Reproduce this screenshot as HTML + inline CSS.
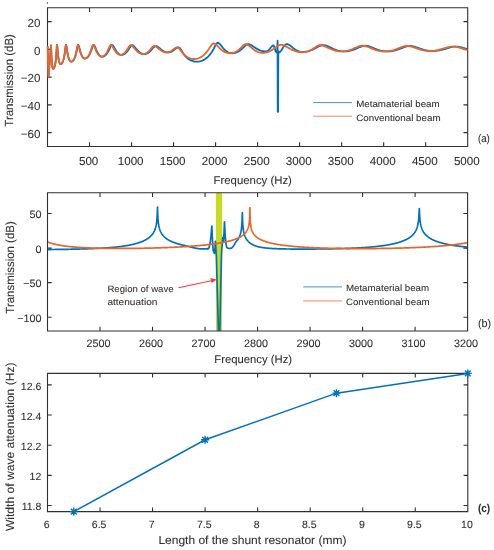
<!DOCTYPE html>
<html><head><meta charset="utf-8"><title>Figure</title>
<style>html,body{margin:0;padding:0;background:#fff;}svg{display:block;}</style>
</head><body>
<svg style="text-rendering:geometricPrecision" width="494" height="550" viewBox="0 0 494 550" font-family="'Liberation Sans', Arial, sans-serif">
<rect width="494" height="550" fill="#fff"/>
<defs><clipPath id="ca"><rect x="46.7" y="7.8" width="421.0" height="138.7"/></clipPath>
<clipPath id="cb"><rect x="47.5" y="192.8" width="420.1" height="138.2"/></clipPath></defs>
<path d="M47.5 7.8H467.7V146.5H47.5Z M89.52 146.5v-4.2 M89.52 7.8v4.2 M131.54 146.5v-4.2 M131.54 7.8v4.2 M173.56 146.5v-4.2 M173.56 7.8v4.2 M215.58 146.5v-4.2 M215.58 7.8v4.2 M257.6 146.5v-4.2 M257.6 7.8v4.2 M299.62 146.5v-4.2 M299.62 7.8v4.2 M341.64 146.5v-4.2 M341.64 7.8v4.2 M383.66 146.5v-4.2 M383.66 7.8v4.2 M425.68 146.5v-4.2 M425.68 7.8v4.2 M47.5 132.63h4.2 M467.7 132.63h-4.2 M47.5 104.89h4.2 M467.7 104.89h-4.2 M47.5 77.15h4.2 M467.7 77.15h-4.2 M47.5 49.41h4.2 M467.7 49.41h-4.2 M47.5 21.67h4.2 M467.7 21.67h-4.2" fill="none" stroke="#303030" stroke-width="1.1"/>
<g clip-path="url(#ca)" fill="none" stroke-linejoin="round" stroke-width="1.85">
<path d="M47.5 46.05 L48.5 76.7 L51 45.35 L51.11 46.93 L51.22 50.07 L51.33 53.15 L51.44 55.77 L51.55 57.95 L51.66 59.79 L51.77 61.34 L51.88 62.66 L51.99 63.79 L52.1 64.77 L52.21 65.6 L52.32 66.32 L52.43 66.93 L52.54 67.43 L52.65 67.85 L52.76 68.19 L52.87 68.44 L52.98 68.62 L53.09 68.72 L53.2 68.75 L53.39 68.7 L53.58 68.58 L53.77 68.38 L53.96 68.11 L54.15 67.75 L54.34 67.31 L54.53 66.79 L54.72 66.16 L54.91 65.42 L55.1 64.57 L55.29 63.57 L55.48 62.42 L55.67 61.08 L55.86 59.51 L56.05 57.65 L56.24 55.45 L56.43 52.81 L56.62 49.71 L56.81 46.55 L57 44.95 L57 44.95 L57.18 45.75 L57.36 47.66 L57.54 49.88 L57.72 51.99 L57.9 53.88 L58.08 55.53 L58.26 56.96 L58.44 58.2 L58.62 59.28 L58.8 60.22 L58.98 61.03 L59.16 61.73 L59.34 62.32 L59.52 62.82 L59.7 63.24 L59.88 63.57 L60.06 63.83 L60.24 64.01 L60.42 64.11 L60.6 64.15 L60.87 64.11 L61.14 64.01 L61.41 63.83 L61.68 63.57 L61.95 63.24 L62.22 62.82 L62.49 62.32 L62.76 61.73 L63.03 61.03 L63.3 60.22 L63.57 59.28 L63.84 58.2 L64.11 56.96 L64.38 55.53 L64.65 53.88 L64.92 51.99 L65.19 49.88 L65.46 47.66 L65.73 45.75 L66 44.95 L66 44.95 L66.26 45.48 L66.52 46.83 L66.78 48.55 L67.04 50.3 L67.3 51.95 L67.56 53.44 L67.82 54.76 L68.08 55.92 L68.34 56.95 L68.6 57.84 L68.86 58.62 L69.12 59.29 L69.38 59.87 L69.64 60.36 L69.9 60.76 L70.16 61.09 L70.42 61.33 L70.68 61.51 L70.94 61.62 L71.2 61.65 L71.55 61.62 L71.9 61.51 L72.25 61.33 L72.6 61.09 L72.95 60.76 L73.3 60.36 L73.65 59.87 L74 59.29 L74.35 58.62 L74.7 57.84 L75.05 56.95 L75.4 55.92 L75.75 54.76 L76.1 53.44 L76.45 51.95 L76.8 50.3 L77.15 48.55 L77.5 46.83 L77.85 45.48 L78.2 44.95 L78.2 44.95 L78.53 45.26 L78.87 46.1 L79.2 47.26 L79.54 48.55 L79.88 49.85 L80.21 51.08 L80.55 52.21 L80.88 53.24 L81.22 54.16 L81.55 54.97 L81.89 55.69 L82.22 56.32 L82.56 56.86 L82.89 57.32 L83.23 57.7 L83.56 58.01 L83.9 58.25 L84.23 58.42 L84.56 58.52 L84.9 58.55 L85.34 58.52 L85.78 58.42 L86.22 58.25 L86.66 58.01 L87.1 57.7 L87.54 57.32 L87.98 56.86 L88.42 56.32 L88.86 55.69 L89.3 54.97 L89.74 54.16 L90.18 53.24 L90.62 52.21 L91.06 51.08 L91.5 49.85 L91.94 48.55 L92.38 47.26 L92.82 46.1 L93.26 45.26 L93.7 44.95 L93.7 44.95 L94.13 45.17 L94.56 45.77 L94.99 46.65 L95.42 47.67 L95.85 48.74 L96.28 49.79 L96.71 50.78 L97.14 51.7 L97.57 52.53 L98 53.28 L98.43 53.95 L98.86 54.54 L99.29 55.05 L99.72 55.48 L100.15 55.84 L100.58 56.14 L101.01 56.36 L101.44 56.52 L101.87 56.62 L102.3 56.65 L102.78 56.62 L103.27 56.52 L103.75 56.36 L104.24 56.14 L104.72 55.84 L105.21 55.48 L105.69 55.05 L106.18 54.54 L106.66 53.95 L107.15 53.28 L107.64 52.53 L108.12 51.7 L108.61 50.78 L109.09 49.79 L109.58 48.74 L110.06 47.67 L110.55 46.65 L111.03 45.77 L111.52 45.17 L112 44.95 L112 44.95 L112.47 45.1 L112.95 45.53 L113.42 46.18 L113.9 46.96 L114.38 47.8 L114.85 48.66 L115.33 49.5 L115.8 50.3 L116.28 51.03 L116.75 51.71 L117.22 52.31 L117.7 52.85 L118.17 53.32 L118.65 53.73 L119.12 54.07 L119.6 54.35 L120.08 54.57 L120.55 54.72 L121.03 54.82 L121.5 54.85 L122.03 54.83 L122.56 54.74 L123.09 54.6 L123.62 54.39 L124.15 54.12 L124.68 53.79 L125.21 53.39 L125.74 52.93 L126.27 52.4 L126.8 51.81 L127.33 51.14 L127.86 50.42 L128.39 49.63 L128.92 48.8 L129.45 47.95 L129.98 47.12 L130.51 46.35 L131.04 45.71 L131.57 45.29 L132.1 45.15 L132.1 45.15 L132.7 45.29 L133.31 45.63 L133.91 46.15 L134.52 46.79 L135.12 47.5 L135.73 48.23 L136.33 48.97 L136.94 49.68 L137.54 50.35 L138.15 50.97 L138.75 51.54 L139.36 52.05 L139.97 52.5 L140.57 52.89 L141.17 53.23 L141.78 53.51 L142.38 53.73 L142.99 53.89 L143.59 54 L144.2 54.05 L144.77 54.04 L145.35 53.98 L145.92 53.86 L146.5 53.69 L147.07 53.46 L147.65 53.16 L148.22 52.82 L148.8 52.41 L149.38 51.94 L149.95 51.42 L150.52 50.84 L151.1 50.22 L151.67 49.55 L152.25 48.86 L152.82 48.17 L153.4 47.51 L153.97 46.91 L154.55 46.44 L155.12 46.14 L155.7 46.05 L155.7 46.05 L156.3 46.14 L156.91 46.35 L157.51 46.65 L158.12 47.03 L158.72 47.47 L159.33 47.95 L159.94 48.44 L160.54 48.94 L161.15 49.43 L161.75 49.89 L162.35 50.33 L162.96 50.73 L163.56 51.09 L164.17 51.42 L164.78 51.7 L165.38 51.94 L165.99 52.14 L166.59 52.29 L167.2 52.39 L167.8 52.45 L168.34 52.46 L168.87 52.43 L169.41 52.35 L169.94 52.22 L170.48 52.05 L171.01 51.84 L171.55 51.58 L172.08 51.29 L172.62 50.96 L173.15 50.59 L173.69 50.2 L174.22 49.78 L174.75 49.35 L175.29 48.93 L175.82 48.52 L176.36 48.15 L176.9 47.84 L177.43 47.61 L177.97 47.47 L178.5 47.45 L178.5 47.45 L179.5 47.84 L180.5 49.04 L181.5 50.59 L182.5 52.2 L183.5 53.7 L184.5 55.05 L185.5 56.25 L186.5 57.28 L187.5 58.18 L188.5 58.95 L189.5 59.61 L190.5 60.16 L191.5 60.61 L192.5 60.98 L193.5 61.26 L194.5 61.47 L195.5 61.59 L196.5 61.65 L197.5 61.64 L198.5 61.55 L199.46 61.4 L200.42 61.18 L201.38 60.89 L202.34 60.53 L203.3 60.09 L204.26 59.57 L205.22 58.97 L206.18 58.28 L207.14 57.49 L208.1 56.6 L209.06 55.6 L210.02 54.46 L210.98 53.19 L211.94 51.76 L212.9 50.18 L213.86 48.44 L214.82 46.6 L215.78 44.81 L216.74 43.38 L217.7 42.75 L217.7 42.75 L218.41 42.93 L219.12 43.39 L219.83 44.07 L220.54 44.88 L221.25 45.76 L221.96 46.65 L222.67 47.52 L223.38 48.35 L224.09 49.12 L224.8 49.82 L225.51 50.46 L226.22 51.02 L226.93 51.53 L227.64 51.96 L228.35 52.33 L229.06 52.64 L229.77 52.88 L230.48 53.06 L231.19 53.19 L231.9 53.25 L232.71 53.26 L233.51 53.2 L234.31 53.09 L235.12 52.92 L235.93 52.68 L236.73 52.38 L237.53 52.02 L238.34 51.58 L239.15 51.09 L239.95 50.52 L240.75 49.89 L241.56 49.19 L242.37 48.43 L243.17 47.63 L243.97 46.81 L244.78 46 L245.59 45.26 L246.39 44.65 L247.19 44.26 L248 44.15 L248 44.15 L248.87 44.26 L249.73 44.51 L250.59 44.88 L251.46 45.33 L252.32 45.86 L253.19 46.42 L254.06 46.99 L254.92 47.56 L255.78 48.11 L256.65 48.63 L257.51 49.12 L258.38 49.57 L259.25 49.97 L260.11 50.33 L260.98 50.64 L261.84 50.9 L262.7 51.11 L263.57 51.27 L264.44 51.38 L265.3 51.45 L265.72 51.44 L266.13 51.39 L266.55 51.29 L266.96 51.14 L267.38 50.94 L267.79 50.69 L268.21 50.39 L268.62 50.05 L269.04 49.66 L269.45 49.23 L269.87 48.77 L270.28 48.28 L270.69 47.77 L271.11 47.26 L271.53 46.76 L271.94 46.29 L272.36 45.9 L272.77 45.59 L273.19 45.4 L273.6 45.35 L274.5 47.55 L275.4 50.85 L276.4 52.15 L277.2 50.75 L277.55 40.75 L277.75 111.7 L278.05 111.7 L278.3 51.05 L278.9 52.55 L279.8 52.15 L280.52 51.43 L281.24 50.41 L281.96 49.28 L282.68 48.14 L283.4 47.05 L284.12 46.08 L284.84 45.26 L285.56 44.66 L286.28 44.28 L287 44.15 L287.75 44.26 L288.5 44.53 L289.25 44.94 L290 45.45 L290.75 46.04 L291.5 46.66 L292.25 47.28 L293 47.9 L293.75 48.49 L294.5 49.04 L295.25 49.55 L296 50.01 L296.75 50.42 L297.5 50.79 L298.25 51.09 L299 51.35 L299.75 51.55 L300.5 51.7 L301.25 51.8 L302 51.85 L303.07 51.85 L304.15 51.8 L305.23 51.7 L306.3 51.55 L307.38 51.34 L308.45 51.09 L309.52 50.77 L310.6 50.41 L311.68 50 L312.75 49.54 L313.82 49.04 L314.9 48.5 L315.98 47.93 L317.05 47.36 L318.12 46.79 L319.2 46.25 L320.27 45.79 L321.35 45.43 L322.43 45.21 L323.5 45.15 L323.5 45.15 L324.52 45.23 L325.55 45.43 L326.57 45.73 L327.6 46.12 L328.62 46.57 L329.65 47.06 L330.68 47.56 L331.7 48.06 L332.73 48.55 L333.75 49.02 L334.77 49.45 L335.8 49.85 L336.82 50.21 L337.85 50.52 L338.88 50.79 L339.9 51.02 L340.93 51.2 L341.95 51.33 L342.98 51.41 L344 51.45 L345.06 51.44 L346.13 51.39 L347.19 51.29 L348.26 51.14 L349.32 50.94 L350.39 50.7 L351.45 50.42 L352.52 50.09 L353.58 49.72 L354.65 49.32 L355.72 48.88 L356.78 48.42 L357.85 47.95 L358.91 47.48 L359.98 47.02 L361.04 46.6 L362.11 46.24 L363.17 45.97 L364.24 45.8 L365.3 45.75 L365.3 45.75 L366.4 45.81 L367.5 45.98 L368.6 46.25 L369.7 46.59 L370.8 47 L371.9 47.43 L373 47.89 L374.1 48.35 L375.2 48.8 L376.3 49.23 L377.4 49.63 L378.5 50 L379.6 50.33 L380.7 50.62 L381.8 50.87 L382.9 51.07 L384 51.23 L385.1 51.35 L386.2 51.42 L387.3 51.45 L388.43 51.43 L389.55 51.37 L390.68 51.26 L391.8 51.11 L392.93 50.92 L394.05 50.68 L395.18 50.4 L396.3 50.08 L397.43 49.72 L398.55 49.33 L399.68 48.91 L400.8 48.47 L401.93 48.02 L403.05 47.57 L404.18 47.15 L405.3 46.75 L406.43 46.42 L407.55 46.16 L408.68 46 L409.8 45.95 L409.8 45.95 L410.92 46.01 L412.04 46.15 L413.16 46.37 L414.28 46.65 L415.4 46.99 L416.52 47.35 L417.64 47.74 L418.76 48.13 L419.88 48.52 L421 48.9 L422.12 49.25 L423.24 49.58 L424.36 49.88 L425.48 50.15 L426.6 50.38 L427.72 50.57 L428.84 50.73 L429.96 50.84 L431.08 50.92 L432.2 50.95 L433.39 50.95 L434.58 50.9 L435.77 50.82 L436.96 50.69 L438.15 50.53 L439.34 50.33 L440.53 50.09 L441.72 49.82 L442.91 49.52 L444.1 49.2 L445.29 48.85 L446.48 48.49 L447.67 48.13 L448.86 47.77 L450.05 47.44 L451.24 47.13 L452.43 46.88 L453.62 46.69 L454.81 46.58 L456 46.55 L456.58 46.56 L457.17 46.59 L457.75 46.65 L458.34 46.72 L458.93 46.81 L459.51 46.92 L460.09 47.04 L460.68 47.18 L461.26 47.33 L461.85 47.49 L462.44 47.66 L463.02 47.84 L463.61 48.02 L464.19 48.2 L464.77 48.38 L465.36 48.57 L465.94 48.75 L466.53 48.93 L467.12 49.1 L467.7 49.27" stroke="#0072BD"/>
<path d="M47.5 46.05 L48.5 76.7 L51 45.35 L51.11 46.93 L51.22 50.07 L51.33 53.15 L51.44 55.77 L51.55 57.95 L51.66 59.79 L51.77 61.34 L51.88 62.66 L51.99 63.79 L52.1 64.77 L52.21 65.6 L52.32 66.32 L52.43 66.93 L52.54 67.43 L52.65 67.85 L52.76 68.19 L52.87 68.44 L52.98 68.62 L53.09 68.72 L53.2 68.75 L53.39 68.7 L53.58 68.58 L53.77 68.38 L53.96 68.11 L54.15 67.75 L54.34 67.31 L54.53 66.79 L54.72 66.16 L54.91 65.42 L55.1 64.57 L55.29 63.57 L55.48 62.42 L55.67 61.08 L55.86 59.51 L56.05 57.65 L56.24 55.45 L56.43 52.81 L56.62 49.71 L56.81 46.55 L57 44.95 L57 44.95 L57.18 45.75 L57.36 47.66 L57.54 49.88 L57.72 51.99 L57.9 53.88 L58.08 55.53 L58.26 56.96 L58.44 58.2 L58.62 59.28 L58.8 60.22 L58.98 61.03 L59.16 61.73 L59.34 62.32 L59.52 62.82 L59.7 63.24 L59.88 63.57 L60.06 63.83 L60.24 64.01 L60.42 64.11 L60.6 64.15 L60.87 64.11 L61.14 64.01 L61.41 63.83 L61.68 63.57 L61.95 63.24 L62.22 62.82 L62.49 62.32 L62.76 61.73 L63.03 61.03 L63.3 60.22 L63.57 59.28 L63.84 58.2 L64.11 56.96 L64.38 55.53 L64.65 53.88 L64.92 51.99 L65.19 49.88 L65.46 47.66 L65.73 45.75 L66 44.95 L66 44.95 L66.26 45.48 L66.52 46.83 L66.78 48.55 L67.04 50.3 L67.3 51.95 L67.56 53.44 L67.82 54.76 L68.08 55.92 L68.34 56.95 L68.6 57.84 L68.86 58.62 L69.12 59.29 L69.38 59.87 L69.64 60.36 L69.9 60.76 L70.16 61.09 L70.42 61.33 L70.68 61.51 L70.94 61.62 L71.2 61.65 L71.54 61.62 L71.88 61.51 L72.22 61.33 L72.56 61.09 L72.9 60.76 L73.24 60.36 L73.58 59.87 L73.92 59.29 L74.26 58.62 L74.6 57.84 L74.94 56.95 L75.28 55.92 L75.62 54.76 L75.96 53.44 L76.3 51.95 L76.64 50.3 L76.98 48.55 L77.32 46.83 L77.66 45.48 L78 44.95 L78 44.95 L78.33 45.26 L78.67 46.1 L79 47.26 L79.34 48.55 L79.67 49.85 L80.01 51.08 L80.34 52.21 L80.68 53.24 L81.02 54.16 L81.35 54.97 L81.69 55.69 L82.02 56.32 L82.36 56.86 L82.69 57.32 L83.03 57.7 L83.36 58.01 L83.7 58.25 L84.03 58.42 L84.37 58.52 L84.7 58.55 L85.12 58.52 L85.55 58.42 L85.98 58.25 L86.4 58.01 L86.83 57.7 L87.25 57.32 L87.67 56.86 L88.1 56.32 L88.53 55.69 L88.95 54.97 L89.38 54.16 L89.8 53.24 L90.23 52.21 L90.65 51.08 L91.08 49.85 L91.5 48.55 L91.92 47.26 L92.35 46.1 L92.78 45.26 L93.2 44.95 L93.2 44.95 L93.62 45.17 L94.05 45.77 L94.48 46.65 L94.9 47.67 L95.33 48.74 L95.75 49.79 L96.17 50.78 L96.6 51.7 L97.03 52.53 L97.45 53.28 L97.88 53.95 L98.3 54.54 L98.73 55.05 L99.15 55.48 L99.58 55.84 L100 56.14 L100.42 56.36 L100.85 56.52 L101.28 56.62 L101.7 56.65 L102.16 56.62 L102.62 56.52 L103.08 56.36 L103.54 56.14 L104 55.84 L104.46 55.48 L104.92 55.05 L105.38 54.54 L105.84 53.95 L106.3 53.28 L106.76 52.53 L107.22 51.7 L107.68 50.78 L108.14 49.79 L108.6 48.74 L109.06 47.67 L109.52 46.65 L109.98 45.77 L110.44 45.17 L110.9 44.95 L110.9 44.95 L111.37 45.1 L111.84 45.53 L112.31 46.18 L112.78 46.96 L113.25 47.8 L113.72 48.66 L114.19 49.5 L114.66 50.3 L115.13 51.03 L115.6 51.71 L116.07 52.31 L116.54 52.85 L117.01 53.32 L117.48 53.73 L117.95 54.07 L118.42 54.35 L118.89 54.57 L119.36 54.72 L119.83 54.82 L120.3 54.85 L120.83 54.83 L121.35 54.74 L121.88 54.6 L122.4 54.39 L122.92 54.12 L123.45 53.79 L123.98 53.39 L124.5 52.93 L125.03 52.4 L125.55 51.81 L126.08 51.14 L126.6 50.42 L127.12 49.63 L127.65 48.8 L128.18 47.95 L128.7 47.12 L129.23 46.35 L129.75 45.71 L130.28 45.29 L130.8 45.15 L130.8 45.15 L131.4 45.29 L132 45.63 L132.6 46.15 L133.2 46.79 L133.8 47.5 L134.4 48.23 L135 48.97 L135.6 49.68 L136.2 50.35 L136.8 50.97 L137.4 51.54 L138 52.05 L138.6 52.5 L139.2 52.9 L139.8 53.23 L140.4 53.51 L141 53.73 L141.6 53.89 L142.2 54 L142.8 54.05 L143.38 54.04 L143.95 53.98 L144.53 53.86 L145.1 53.69 L145.68 53.46 L146.25 53.17 L146.83 52.82 L147.4 52.41 L147.98 51.94 L148.55 51.42 L149.12 50.84 L149.7 50.22 L150.28 49.55 L150.85 48.86 L151.43 48.17 L152 47.51 L152.58 46.91 L153.15 46.44 L153.73 46.14 L154.3 46.05 L154.3 46.05 L154.9 46.14 L155.49 46.35 L156.09 46.65 L156.68 47.03 L157.28 47.47 L157.87 47.95 L158.47 48.45 L159.06 48.94 L159.66 49.43 L160.25 49.89 L160.84 50.33 L161.44 50.73 L162.03 51.1 L162.63 51.42 L163.22 51.7 L163.82 51.94 L164.41 52.14 L165.01 52.29 L165.6 52.39 L166.2 52.45 L166.75 52.46 L167.3 52.43 L167.85 52.35 L168.4 52.22 L168.95 52.05 L169.5 51.84 L170.05 51.59 L170.6 51.29 L171.15 50.96 L171.7 50.59 L172.25 50.2 L172.8 49.78 L173.35 49.36 L173.9 48.93 L174.45 48.52 L175 48.15 L175.55 47.84 L176.1 47.61 L176.65 47.47 L177.2 47.45 L177.2 47.45 L178.11 47.65 L179.02 48.38 L179.93 49.43 L180.84 50.61 L181.75 51.8 L182.66 52.92 L183.57 53.95 L184.48 54.88 L185.39 55.69 L186.3 56.4 L187.21 57.02 L188.12 57.54 L189.03 57.98 L189.94 58.34 L190.85 58.62 L191.76 58.82 L192.67 58.96 L193.58 59.02 L194.49 59.02 L195.4 58.95 L196.31 58.81 L197.22 58.61 L198.13 58.34 L199.04 58 L199.95 57.59 L200.86 57.11 L201.77 56.55 L202.68 55.9 L203.59 55.17 L204.5 54.35 L205.41 53.44 L206.32 52.42 L207.23 51.29 L208.14 50.05 L209.05 48.73 L209.96 47.33 L210.87 45.95 L211.78 44.69 L212.69 43.76 L213.6 43.35 L213.6 43.35 L214.41 43.51 L215.22 43.93 L216.03 44.55 L216.84 45.31 L217.65 46.14 L218.46 46.98 L219.27 47.81 L220.08 48.6 L220.89 49.33 L221.7 50.01 L222.51 50.62 L223.32 51.16 L224.13 51.64 L224.94 52.05 L225.75 52.41 L226.56 52.7 L227.37 52.92 L228.18 53.09 L228.99 53.2 L229.8 53.25 L230.61 53.24 L231.42 53.17 L232.23 53.04 L233.04 52.86 L233.85 52.61 L234.66 52.29 L235.47 51.92 L236.28 51.48 L237.09 50.98 L237.9 50.41 L238.71 49.77 L239.52 49.08 L240.33 48.33 L241.14 47.54 L241.95 46.74 L242.76 45.95 L243.57 45.23 L244.38 44.65 L245.19 44.27 L246 44.15 L246 44.15 L246.81 44.28 L247.63 44.61 L248.44 45.12 L249.26 45.74 L250.07 46.44 L250.89 47.17 L251.71 47.89 L252.52 48.59 L253.34 49.25 L254.15 49.86 L254.97 50.42 L255.78 50.92 L256.6 51.37 L257.41 51.75 L258.23 52.08 L259.04 52.34 L259.86 52.56 L260.67 52.71 L261.49 52.81 L262.3 52.85 L263.23 52.84 L264.15 52.77 L265.07 52.65 L266 52.46 L266.93 52.23 L267.85 51.93 L268.78 51.58 L269.7 51.16 L270.62 50.69 L271.55 50.16 L272.48 49.58 L273.4 48.95 L274.32 48.28 L275.25 47.59 L276.18 46.89 L277.1 46.22 L278.03 45.63 L278.95 45.15 L279.88 44.85 L280.8 44.75 L280.8 44.75 L281.88 44.85 L282.95 45.11 L284.03 45.51 L285.1 46.01 L286.18 46.59 L287.25 47.19 L288.32 47.81 L289.4 48.42 L290.48 49 L291.55 49.54 L292.62 50.04 L293.7 50.49 L294.78 50.89 L295.85 51.24 L296.93 51.54 L298 51.79 L299.07 51.98 L300.15 52.12 L301.23 52.21 L302.3 52.25 L303.21 52.23 L304.12 52.16 L305.03 52.04 L305.94 51.87 L306.85 51.64 L307.76 51.36 L308.67 51.03 L309.58 50.65 L310.49 50.22 L311.4 49.74 L312.31 49.22 L313.22 48.66 L314.13 48.07 L315.04 47.47 L315.95 46.89 L316.86 46.33 L317.77 45.85 L318.68 45.47 L319.59 45.23 L320.5 45.15 L320.5 45.15 L321.54 45.23 L322.58 45.43 L323.62 45.73 L324.66 46.12 L325.7 46.57 L326.74 47.06 L327.78 47.56 L328.82 48.06 L329.86 48.55 L330.9 49.02 L331.94 49.45 L332.98 49.85 L334.02 50.21 L335.06 50.52 L336.1 50.79 L337.14 51.02 L338.18 51.19 L339.22 51.33 L340.26 51.41 L341.3 51.45 L342.36 51.44 L343.42 51.39 L344.48 51.28 L345.54 51.14 L346.6 50.94 L347.66 50.7 L348.72 50.42 L349.78 50.09 L350.84 49.72 L351.9 49.32 L352.96 48.88 L354.02 48.42 L355.08 47.95 L356.14 47.48 L357.2 47.02 L358.26 46.6 L359.32 46.24 L360.38 45.97 L361.44 45.8 L362.5 45.75 L362.5 45.75 L363.62 45.81 L364.73 45.98 L365.85 46.25 L366.96 46.59 L368.07 47 L369.19 47.43 L370.31 47.89 L371.42 48.35 L372.54 48.8 L373.65 49.23 L374.76 49.63 L375.88 50 L377 50.33 L378.11 50.62 L379.23 50.87 L380.34 51.07 L381.45 51.23 L382.57 51.35 L383.69 51.42 L384.8 51.45 L385.91 51.43 L387.02 51.37 L388.13 51.26 L389.24 51.11 L390.35 50.92 L391.46 50.68 L392.57 50.4 L393.68 50.08 L394.79 49.72 L395.9 49.33 L397.01 48.91 L398.12 48.47 L399.23 48.02 L400.34 47.57 L401.45 47.15 L402.56 46.75 L403.67 46.42 L404.78 46.16 L405.89 46 L407 45.95 L407 45.95 L408.13 46.01 L409.26 46.15 L410.39 46.37 L411.52 46.65 L412.65 46.99 L413.78 47.35 L414.91 47.74 L416.04 48.13 L417.17 48.52 L418.3 48.9 L419.43 49.25 L420.56 49.58 L421.69 49.88 L422.82 50.15 L423.95 50.38 L425.08 50.57 L426.21 50.73 L427.34 50.84 L428.47 50.92 L429.6 50.95 L430.78 50.95 L431.95 50.9 L433.12 50.82 L434.3 50.69 L435.48 50.53 L436.65 50.33 L437.83 50.09 L439 49.82 L440.18 49.52 L441.35 49.2 L442.53 48.85 L443.7 48.49 L444.88 48.13 L446.05 47.77 L447.23 47.44 L448.4 47.13 L449.58 46.88 L450.75 46.69 L451.93 46.58 L453.1 46.55 L453.83 46.57 L454.56 46.62 L455.29 46.7 L456.02 46.81 L456.75 46.95 L457.48 47.12 L458.21 47.3 L458.94 47.5 L459.67 47.71 L460.4 47.93 L461.13 48.16 L461.86 48.39 L462.59 48.62 L463.32 48.85 L464.05 49.07 L464.78 49.28 L465.51 49.49 L466.24 49.68 L466.97 49.87 L467.7 50.04" stroke="#EC6526"/>
</g>
<text x="88.62" y="165.4" font-size="11.6" text-anchor="middle" fill="#303030" stroke="#303030" stroke-width="0.08">500</text>
<text x="130.64" y="165.4" font-size="11.6" text-anchor="middle" fill="#303030" stroke="#303030" stroke-width="0.08">1000</text>
<text x="172.66" y="165.4" font-size="11.6" text-anchor="middle" fill="#303030" stroke="#303030" stroke-width="0.08">1500</text>
<text x="214.68" y="165.4" font-size="11.6" text-anchor="middle" fill="#303030" stroke="#303030" stroke-width="0.08">2000</text>
<text x="256.7" y="165.4" font-size="11.6" text-anchor="middle" fill="#303030" stroke="#303030" stroke-width="0.08">2500</text>
<text x="298.72" y="165.4" font-size="11.6" text-anchor="middle" fill="#303030" stroke="#303030" stroke-width="0.08">3000</text>
<text x="340.74" y="165.4" font-size="11.6" text-anchor="middle" fill="#303030" stroke="#303030" stroke-width="0.08">3500</text>
<text x="382.76" y="165.4" font-size="11.6" text-anchor="middle" fill="#303030" stroke="#303030" stroke-width="0.08">4000</text>
<text x="424.78" y="165.4" font-size="11.6" text-anchor="middle" fill="#303030" stroke="#303030" stroke-width="0.08">4500</text>
<text x="466.8" y="165.4" font-size="11.6" text-anchor="middle" fill="#303030" stroke="#303030" stroke-width="0.08">5000</text>
<text x="40.4" y="137.75" font-size="11.6" text-anchor="end" fill="#303030" stroke="#303030" stroke-width="0.08">−60</text>
<text x="40.4" y="110.01" font-size="11.6" text-anchor="end" fill="#303030" stroke="#303030" stroke-width="0.08">−40</text>
<text x="40.4" y="82.27" font-size="11.6" text-anchor="end" fill="#303030" stroke="#303030" stroke-width="0.08">−20</text>
<text x="40.4" y="54.53" font-size="11.6" text-anchor="end" fill="#303030" stroke="#303030" stroke-width="0.08">0</text>
<text x="40.4" y="26.79" font-size="11.6" text-anchor="end" fill="#303030" stroke="#303030" stroke-width="0.08">20</text>
<text x="252.7" y="183.7" font-size="11.3" text-anchor="middle" fill="#303030" stroke="#303030" stroke-width="0.08" textLength="78.4" lengthAdjust="spacingAndGlyphs">Frequency (Hz)</text>
<text transform="translate(13.2 80.35) rotate(-90)" x="0" y="0" font-size="11.8" text-anchor="middle" fill="#303030" stroke="#303030" stroke-width="0.08" textLength="92.6" lengthAdjust="spacingAndGlyphs">Transmission (dB)</text>
<path d="M313.2 102.6H352" stroke="#0072BD" stroke-width="1" opacity="0.75"/>
<path d="M313.2 116.2H352" stroke="#EC6526" stroke-width="1" opacity="0.75"/>
<text x="356.2" y="106.8" font-size="9.2" text-anchor="start" fill="#303030" stroke="#303030" stroke-width="0.08" textLength="83.4" lengthAdjust="spacingAndGlyphs">Metamaterial beam</text>
<text x="356.2" y="120.7" font-size="9.2" text-anchor="start" fill="#303030" stroke="#303030" stroke-width="0.08" textLength="84.4" lengthAdjust="spacingAndGlyphs">Conventional beam</text>
<text x="478" y="142" font-size="11" text-anchor="start" fill="#303030" stroke="#303030" stroke-width="0.08" textLength="11.8" lengthAdjust="spacingAndGlyphs">(a)</text>
<rect x="46.8" y="2.4" width="1.2" height="1.2" fill="#303030"/>
<rect x="216.0" y="192.8" width="6.1" height="138.2" fill="#C8DC1E"/>
<g clip-path="url(#cb)" fill="none" stroke-linejoin="round" stroke-width="1.7">
<path d="M47.5 249.56 L47.68 249.56 L47.86 249.56 L48.04 249.56 L48.21 249.56 L48.39 249.56 L48.57 249.55 L48.75 249.55 L48.93 249.55 L49.11 249.55 L49.29 249.55 L49.47 249.54 L49.64 249.54 L49.82 249.54 L50 249.54 L50.18 249.54 L50.36 249.53 L50.54 249.53 L50.72 249.53 L50.9 249.53 L51.07 249.53 L51.25 249.52 L51.43 249.52 L51.61 249.52 L51.79 249.52 L51.97 249.52 L52.15 249.51 L52.33 249.51 L52.5 249.51 L52.68 249.51 L52.86 249.51 L53.04 249.5 L53.22 249.5 L53.4 249.5 L53.58 249.5 L53.76 249.49 L53.93 249.49 L54.11 249.49 L54.29 249.49 L54.47 249.49 L54.65 249.48 L54.83 249.48 L55.01 249.48 L55.19 249.48 L55.36 249.48 L55.54 249.47 L55.72 249.47 L55.9 249.47 L56.08 249.47 L56.26 249.46 L56.44 249.46 L56.62 249.46 L56.79 249.46 L56.97 249.45 L57.15 249.45 L57.33 249.45 L57.51 249.45 L57.69 249.44 L57.87 249.44 L58.05 249.44 L58.22 249.44 L58.4 249.44 L58.58 249.43 L58.76 249.43 L58.94 249.43 L59.12 249.43 L59.3 249.42 L59.48 249.42 L59.65 249.42 L59.83 249.42 L60.01 249.41 L60.19 249.41 L60.37 249.41 L60.55 249.4 L60.73 249.4 L60.91 249.4 L61.08 249.4 L61.26 249.39 L61.44 249.39 L61.62 249.39 L61.8 249.39 L61.98 249.38 L62.16 249.38 L62.34 249.38 L62.51 249.38 L62.69 249.37 L62.87 249.37 L63.05 249.37 L63.23 249.36 L63.41 249.36 L63.59 249.36 L63.77 249.36 L63.94 249.35 L64.12 249.35 L64.3 249.35 L64.48 249.34 L64.66 249.34 L64.84 249.34 L65.02 249.34 L65.2 249.33 L65.37 249.33 L65.55 249.33 L65.73 249.32 L65.91 249.32 L66.09 249.32 L66.27 249.31 L66.45 249.31 L66.63 249.31 L66.8 249.3 L66.98 249.3 L67.16 249.3 L67.34 249.3 L67.52 249.29 L67.7 249.29 L67.88 249.29 L68.06 249.28 L68.23 249.28 L68.41 249.28 L68.59 249.27 L68.77 249.27 L68.95 249.27 L69.13 249.26 L69.31 249.26 L69.49 249.26 L69.66 249.25 L69.84 249.25 L70.02 249.25 L70.2 249.24 L70.38 249.24 L70.56 249.24 L70.74 249.23 L70.92 249.23 L71.09 249.23 L71.27 249.22 L71.45 249.22 L71.63 249.21 L71.81 249.21 L71.99 249.21 L72.17 249.2 L72.35 249.2 L72.52 249.2 L72.7 249.19 L72.88 249.19 L73.06 249.18 L73.24 249.18 L73.42 249.18 L73.6 249.17 L73.77 249.17 L73.95 249.17 L74.13 249.16 L74.31 249.16 L74.49 249.15 L74.67 249.15 L74.85 249.15 L75.03 249.14 L75.2 249.14 L75.38 249.13 L75.56 249.13 L75.74 249.13 L75.92 249.12 L76.1 249.12 L76.28 249.11 L76.46 249.11 L76.63 249.1 L76.81 249.1 L76.99 249.1 L77.17 249.09 L77.35 249.09 L77.53 249.08 L77.71 249.08 L77.89 249.07 L78.06 249.07 L78.24 249.07 L78.42 249.06 L78.6 249.06 L78.78 249.05 L78.96 249.05 L79.14 249.04 L79.32 249.04 L79.49 249.03 L79.67 249.03 L79.85 249.02 L80.03 249.02 L80.21 249.02 L80.39 249.01 L80.57 249.01 L80.75 249 L80.92 249 L81.1 248.99 L81.28 248.99 L81.46 248.98 L81.64 248.98 L81.82 248.97 L82 248.97 L82.18 248.96 L82.35 248.96 L82.53 248.95 L82.71 248.95 L82.89 248.94 L83.07 248.94 L83.25 248.93 L83.43 248.93 L83.61 248.92 L83.78 248.91 L83.96 248.91 L84.14 248.9 L84.32 248.9 L84.5 248.89 L84.68 248.89 L84.86 248.88 L85.04 248.88 L85.21 248.87 L85.39 248.87 L85.57 248.86 L85.75 248.85 L85.93 248.85 L86.11 248.84 L86.29 248.84 L86.47 248.83 L86.64 248.82 L86.82 248.82 L87 248.81 L87.18 248.81 L87.36 248.8 L87.54 248.8 L87.72 248.79 L87.9 248.78 L88.07 248.78 L88.25 248.77 L88.43 248.76 L88.61 248.76 L88.79 248.75 L88.97 248.75 L89.15 248.74 L89.33 248.73 L89.5 248.73 L89.68 248.72 L89.86 248.71 L90.04 248.71 L90.22 248.7 L90.4 248.69 L90.58 248.69 L90.76 248.68 L90.93 248.67 L91.11 248.67 L91.29 248.66 L91.47 248.65 L91.65 248.64 L91.83 248.64 L92.01 248.63 L92.19 248.62 L92.36 248.62 L92.54 248.61 L92.72 248.6 L92.9 248.59 L93.08 248.59 L93.26 248.58 L93.44 248.57 L93.62 248.56 L93.79 248.56 L93.97 248.55 L94.15 248.54 L94.33 248.53 L94.51 248.53 L94.69 248.52 L94.87 248.51 L95.05 248.5 L95.22 248.49 L95.4 248.49 L95.58 248.48 L95.76 248.47 L95.94 248.46 L96.12 248.45 L96.3 248.45 L96.48 248.44 L96.65 248.43 L96.83 248.42 L97.01 248.41 L97.19 248.4 L97.37 248.39 L97.55 248.39 L97.73 248.38 L97.9 248.37 L98.08 248.36 L98.26 248.35 L98.44 248.34 L98.62 248.33 L98.8 248.32 L98.98 248.31 L99.16 248.3 L99.33 248.3 L99.51 248.29 L99.69 248.28 L99.87 248.27 L100.05 248.26 L100.23 248.25 L100.41 248.24 L100.59 248.23 L100.76 248.22 L100.94 248.21 L101.12 248.2 L101.3 248.19 L101.48 248.18 L101.66 248.17 L101.84 248.16 L102.02 248.15 L102.19 248.14 L102.37 248.13 L102.55 248.12 L102.73 248.11 L102.91 248.09 L103.09 248.08 L103.27 248.07 L103.45 248.06 L103.62 248.05 L103.8 248.04 L103.98 248.03 L104.16 248.02 L104.34 248.01 L104.52 247.99 L104.7 247.98 L104.88 247.97 L105.05 247.96 L105.23 247.95 L105.41 247.94 L105.59 247.92 L105.77 247.91 L105.95 247.9 L106.13 247.89 L106.31 247.88 L106.48 247.86 L106.66 247.85 L106.84 247.84 L107.02 247.83 L107.2 247.81 L107.38 247.8 L107.56 247.79 L107.74 247.77 L107.91 247.76 L108.09 247.75 L108.27 247.74 L108.45 247.72 L108.63 247.71 L108.81 247.69 L108.99 247.68 L109.17 247.67 L109.34 247.65 L109.52 247.64 L109.7 247.63 L109.88 247.61 L110.06 247.6 L110.24 247.58 L110.42 247.57 L110.6 247.55 L110.77 247.54 L110.95 247.52 L111.13 247.51 L111.31 247.49 L111.49 247.48 L111.67 247.46 L111.85 247.45 L112.03 247.43 L112.2 247.42 L112.38 247.4 L112.56 247.38 L112.74 247.37 L112.92 247.35 L113.1 247.34 L113.28 247.32 L113.46 247.3 L113.63 247.29 L113.81 247.27 L113.99 247.25 L114.17 247.24 L114.35 247.22 L114.53 247.2 L114.71 247.18 L114.89 247.17 L115.06 247.15 L115.24 247.13 L115.42 247.11 L115.6 247.1 L115.78 247.08 L115.96 247.06 L116.14 247.04 L116.32 247.02 L116.49 247 L116.67 246.98 L116.85 246.96 L117.03 246.94 L117.21 246.93 L117.39 246.91 L117.57 246.89 L117.75 246.87 L117.92 246.85 L118.1 246.83 L118.28 246.81 L118.46 246.79 L118.64 246.76 L118.82 246.74 L119 246.72 L119.18 246.7 L119.35 246.68 L119.53 246.66 L119.71 246.64 L119.89 246.61 L120.07 246.59 L120.25 246.57 L120.43 246.55 L120.61 246.52 L120.78 246.5 L120.96 246.48 L121.14 246.46 L121.32 246.43 L121.5 246.41 L121.68 246.39 L121.86 246.36 L122.04 246.34 L122.21 246.31 L122.39 246.29 L122.57 246.26 L122.75 246.24 L122.93 246.21 L123.11 246.19 L123.29 246.16 L123.46 246.14 L123.64 246.11 L123.82 246.08 L124 246.06 L124.18 246.03 L124.36 246 L124.54 245.98 L124.72 245.95 L124.89 245.92 L125.07 245.89 L125.25 245.86 L125.43 245.84 L125.61 245.81 L125.79 245.78 L125.97 245.75 L126.15 245.72 L126.32 245.69 L126.5 245.66 L126.68 245.63 L126.86 245.6 L127.04 245.57 L127.22 245.54 L127.4 245.51 L127.58 245.48 L127.75 245.44 L127.93 245.41 L128.11 245.38 L128.29 245.35 L128.47 245.31 L128.65 245.28 L128.83 245.25 L129.01 245.21 L129.18 245.18 L129.36 245.14 L129.54 245.11 L129.72 245.07 L129.9 245.04 L130.08 245 L130.26 244.97 L130.44 244.93 L130.61 244.89 L130.79 244.86 L130.97 244.82 L131.15 244.78 L131.33 244.74 L131.51 244.7 L131.69 244.66 L131.87 244.63 L132.04 244.59 L132.22 244.55 L132.4 244.51 L132.58 244.46 L132.76 244.42 L132.94 244.38 L133.12 244.34 L133.3 244.3 L133.47 244.25 L133.65 244.21 L133.83 244.17 L134.01 244.12 L134.19 244.08 L134.37 244.03 L134.55 243.99 L134.73 243.94 L134.9 243.89 L135.08 243.85 L135.26 243.8 L135.44 243.75 L135.62 243.7 L135.8 243.66 L135.98 243.61 L136.16 243.56 L136.33 243.51 L136.51 243.45 L136.69 243.4 L136.87 243.35 L137.05 243.3 L137.23 243.24 L137.41 243.19 L137.59 243.14 L137.76 243.08 L137.94 243.03 L138.12 242.97 L138.3 242.91 L138.48 242.86 L138.66 242.8 L138.84 242.74 L139.02 242.68 L139.19 242.62 L139.37 242.56 L139.55 242.5 L139.73 242.43 L139.91 242.37 L140.09 242.31 L140.27 242.24 L140.45 242.18 L140.62 242.11 L140.8 242.04 L140.98 241.98 L141.16 241.91 L141.34 241.84 L141.52 241.77 L141.7 241.7 L141.88 241.62 L142.05 241.55 L142.23 241.48 L142.41 241.4 L142.59 241.32 L142.77 241.25 L142.95 241.17 L143.13 241.09 L143.31 241.01 L143.48 240.93 L143.66 240.84 L143.84 240.76 L144.02 240.68 L144.2 240.59 L144.38 240.5 L144.56 240.41 L144.74 240.32 L144.91 240.23 L145.09 240.14 L145.27 240.04 L145.45 239.95 L145.63 239.85 L145.81 239.75 L145.99 239.65 L146.17 239.55 L146.34 239.44 L146.52 239.34 L146.7 239.23 L146.88 239.12 L147.06 239.01 L147.24 238.89 L147.42 238.78 L147.6 238.66 L147.77 238.54 L147.95 238.42 L148.13 238.29 L148.31 238.16 L148.49 238.03 L148.67 237.9 L148.85 237.76 L149.02 237.62 L149.2 237.48 L149.38 237.34 L149.56 237.19 L149.74 237.04 L149.92 236.88 L150.1 236.72 L150.28 236.56 L150.45 236.39 L150.63 236.22 L150.81 236.05 L150.99 235.86 L151.17 235.68 L151.35 235.49 L151.53 235.29 L151.71 235.09 L151.88 234.88 L152.06 234.66 L152.24 234.43 L152.42 234.2 L152.6 233.96 L152.78 233.71 L152.96 233.45 L153.14 233.18 L153.31 232.9 L153.49 232.61 L153.67 232.3 L153.85 231.98 L154.03 231.65 L154.21 231.29 L154.39 230.92 L154.57 230.52 L154.74 230.1 L154.92 229.65 L155.1 229.17 L155.28 228.65 L155.46 228.08 L155.64 227.47 L155.82 226.79 L156 226.04 L156.17 225.2 L156.35 224.24 L156.53 223.11 L156.71 221.76 L156.89 220.08 L157.07 217.85 L157.25 214.57 L157.43 209.08 L157.51 207.17 L157.6 209.57 L157.78 215.32 L157.96 218.61 L158.14 220.84 L158.32 222.52 L158.5 223.86 L158.68 224.98 L158.86 225.95 L159.03 226.79 L159.21 227.53 L159.39 228.21 L159.57 228.82 L159.75 229.38 L159.93 229.9 L160.11 230.38 L160.29 230.82 L160.46 231.24 L160.64 231.64 L160.82 232.01 L161 232.37 L161.18 232.7 L161.36 233.02 L161.54 233.33 L161.72 233.62 L161.89 233.9 L162.07 234.16 L162.25 234.42 L162.43 234.67 L162.61 234.91 L162.79 235.14 L162.97 235.36 L163.15 235.57 L163.32 235.78 L163.5 235.98 L163.68 236.18 L163.86 236.37 L164.04 236.55 L164.22 236.73 L164.4 236.91 L164.58 237.08 L164.75 237.24 L164.93 237.41 L165.11 237.56 L165.29 237.72 L165.47 237.87 L165.65 238.01 L165.83 238.16 L166.01 238.29 L166.18 238.43 L166.36 238.57 L166.54 238.7 L166.72 238.82 L166.9 238.95 L167.08 239.07 L167.26 239.19 L167.44 239.31 L167.61 239.43 L167.79 239.54 L167.97 239.65 L168.15 239.76 L168.33 239.87 L168.51 239.98 L168.69 240.08 L168.87 240.18 L169.04 240.28 L169.22 240.38 L169.4 240.48 L169.58 240.57 L169.76 240.67 L169.94 240.76 L170.12 240.85 L170.3 240.94 L170.47 241.03 L170.65 241.12 L170.83 241.2 L171.01 241.29 L171.19 241.37 L171.37 241.45 L171.55 241.53 L171.73 241.61 L171.9 241.69 L172.08 241.76 L172.26 241.84 L172.44 241.92 L172.62 241.99 L172.8 242.06 L172.98 242.13 L173.15 242.21 L173.33 242.28 L173.51 242.34 L173.69 242.41 L173.87 242.48 L174.05 242.55 L174.23 242.61 L174.41 242.68 L174.58 242.74 L174.76 242.8 L174.94 242.87 L175.12 242.93 L175.3 242.99 L175.48 243.05 L175.66 243.11 L175.84 243.17 L176.01 243.23 L176.19 243.28 L176.37 243.34 L176.55 243.4 L176.73 243.45 L176.91 243.51 L177.09 243.56 L177.27 243.62 L177.44 243.67 L177.62 243.72 L177.8 243.78 L177.98 243.83 L178.16 243.88 L178.34 243.93 L178.52 243.98 L178.7 244.03 L178.87 244.08 L179.05 244.13 L179.23 244.18 L179.41 244.23 L179.59 244.28 L179.77 244.33 L179.95 244.37 L180.13 244.42 L180.3 244.47 L180.48 244.52 L180.66 244.56 L180.84 244.61 L181.02 244.65 L181.2 244.7 L181.38 244.75 L181.56 244.79 L181.73 244.84 L181.91 244.88 L182.09 244.92 L182.27 244.97 L182.45 245.01 L182.63 245.06 L182.81 245.1 L182.99 245.15 L183.16 245.19 L183.34 245.23 L183.52 245.28 L183.7 245.32 L183.88 245.36 L184.06 245.41 L184.24 245.45 L184.42 245.49 L184.59 245.54 L184.77 245.58 L184.95 245.62 L185.13 245.67 L185.31 245.71 L185.49 245.75 L185.67 245.8 L185.85 245.84 L186.02 245.88 L186.2 245.93 L186.38 245.97 L186.56 246.01 L186.74 246.06 L186.92 246.1 L187.1 246.14 L187.28 246.19 L187.45 246.23 L187.63 246.27 L187.81 246.32 L187.99 246.36 L188.17 246.41 L188.35 246.45 L188.53 246.49 L188.71 246.54 L188.88 246.58 L189.06 246.63 L189.24 246.67 L189.42 246.72 L189.6 246.76 L189.78 246.8 L189.96 246.85 L190.14 246.89 L190.31 246.94 L190.49 246.98 L190.67 247.03 L190.85 247.07 L191.03 247.12 L191.21 247.16 L191.39 247.2 L191.57 247.25 L191.74 247.29 L191.92 247.34 L192.1 247.38 L192.28 247.42 L192.46 247.47 L192.64 247.51 L192.82 247.55 L193 247.59 L193.17 247.64 L193.35 247.68 L193.53 247.72 L193.71 247.76 L193.89 247.8 L194.07 247.84 L194.25 247.88 L194.43 247.92 L194.6 247.96 L194.78 248 L194.96 248.04 L195.14 248.08 L195.32 248.11 L195.5 248.15 L195.68 248.19 L195.86 248.22 L196.03 248.26 L196.21 248.29 L196.39 248.33 L196.57 248.36 L196.75 248.39 L196.93 248.42 L197.11 248.45 L197.29 248.48 L197.46 248.51 L197.64 248.54 L197.82 248.57 L198 248.59 L198.18 248.62 L198.36 248.65 L198.54 248.67 L198.71 248.69 L198.89 248.71 L199.07 248.74 L199.25 248.76 L199.43 248.77 L199.61 248.79 L199.79 248.81 L199.97 248.83 L200.14 248.84 L200.32 248.86 L200.5 248.87 L200.68 248.88 L200.86 248.89 L201.04 248.9 L201.22 248.91 L201.4 248.92 L201.57 248.93 L201.75 248.93 L201.93 248.94 L202.11 248.94 L202.29 248.95 L202.47 248.95 L202.65 248.95 L202.83 248.95 L203 248.95 L203.18 248.95 L203.36 248.95 L203.54 248.94 L203.72 248.94 L203.9 248.93 L204.08 248.93 L204.26 248.92 L204.43 248.91 L204.61 248.91 L204.79 248.9 L204.97 248.89 L205.15 248.88 L205.33 248.87 L205.51 248.85 L205.69 248.84 L205.86 248.83 L206.04 248.82 L206.22 248.8 L206.4 248.79 L206.58 248.77 L206.76 248.76 L206.94 248.74 L207.12 248.72 L207.29 248.71 L207.47 248.69 L207.65 248.67 L207.83 248.65 L208.01 248.63 L208.19 248.61 L207.8 249.3 L209 247.8 L210.2 243 L211 236 L211.8 226.1 L212.5 240 L213.2 250.5 L214.4 253.4 L215 248 L215.4 241.3 L215.9 249 L216.35 257 L218.45 331.5 L219.1 342 L219.75 331.5 L221.4 257 L221.8 249 L222.2 245 L222.7 237.7 L223.5 241.9 L224 233 L224.5 221.9 L225 233 L225.8 243 L226.8 247.6 L228.5 248.5 L230.5 248.4 L232 247.7 L233.5 246 L235 243.4 L236.3 241.31 L236.47 241.14 L236.63 240.96 L236.8 240.78 L236.96 240.59 L237.13 240.39 L237.29 240.19 L237.46 239.98 L237.62 239.76 L237.79 239.53 L237.95 239.29 L238.12 239.04 L238.28 238.78 L238.45 238.51 L238.61 238.23 L238.78 237.93 L238.95 237.62 L239.11 237.29 L239.28 236.94 L239.44 236.58 L239.61 236.19 L239.77 235.77 L239.94 235.32 L240.1 234.85 L240.27 234.33 L240.43 233.77 L240.6 233.16 L240.76 232.49 L240.93 231.73 L241.09 230.89 L241.26 229.92 L241.43 228.78 L241.59 227.42 L241.76 225.71 L241.92 223.43 L242.09 220.02 L242.25 214.25 L242.32 212.69 L242.42 215.33 L242.58 220.69 L242.75 223.86 L242.91 226.03 L243.08 227.68 L243.24 229 L243.41 230.11 L243.57 231.07 L243.74 231.9 L243.91 232.64 L244.07 233.31 L244.24 233.92 L244.4 234.47 L244.57 234.99 L244.73 235.46 L244.9 235.91 L245.06 236.32 L245.23 236.72 L245.39 237.08 L245.56 237.43 L245.72 237.76 L245.89 238.08 L246.05 238.38 L246.22 238.66 L246.39 238.94 L246.55 239.2 L246.72 239.45 L246.88 239.69 L247.05 239.92 L247.21 240.15 L247.38 240.36 L247.54 240.57 L247.71 240.77 L247.87 240.96 L248.04 241.15 L248.2 241.33 L248.37 241.5 L248.53 241.67 L248.7 241.84 L248.87 242 L249.03 242.15 L249.2 242.3 L249.36 242.45 L249.53 242.59 L249.69 242.73 L249.86 242.86 L250.02 242.99 L250.19 243.12 L250.35 243.24 L250.52 243.36 L250.68 243.48 L250.85 243.59 L251.01 243.7 L251.18 243.81 L251.35 243.92 L251.51 244.02 L251.68 244.12 L251.84 244.22 L252.01 244.31 L252.17 244.41 L252.34 244.5 L252.5 244.59 L252.67 244.67 L252.83 244.76 L253 244.84 L253.16 244.92 L253.33 245 L253.49 245.08 L253.66 245.16 L253.83 245.23 L253.99 245.3 L254.16 245.37 L254.32 245.44 L254.49 245.51 L254.65 245.58 L254.82 245.64 L254.98 245.71 L255.15 245.77 L255.31 245.83 L255.48 245.89 L255.64 245.95 L255.81 246 L255.97 246.06 L256.14 246.11 L256.31 246.17 L256.47 246.22 L256.64 246.27 L256.8 246.32 L256.97 246.37 L257.13 246.42 L257.3 246.47 L257.46 246.51 L257.63 246.56 L257.79 246.6 L257.96 246.65 L258.12 246.69 L258.29 246.73 L258.45 246.77 L258.62 246.81 L258.79 246.85 L258.95 246.89 L259.12 246.93 L259.28 246.96 L259.45 247 L259.61 247.04 L259.78 247.07 L259.94 247.11 L260.11 247.14 L260.27 247.17 L260.44 247.21 L260.6 247.24 L260.77 247.27 L260.93 247.3 L261.1 247.33 L261.27 247.36 L261.43 247.39 L261.6 247.42 L261.76 247.45 L261.93 247.47 L262.09 247.5 L262.26 247.53 L262.42 247.55 L262.59 247.58 L262.75 247.6 L262.92 247.63 L263.08 247.65 L263.25 247.68 L263.41 247.7 L263.58 247.72 L263.75 247.74 L263.91 247.77 L264.08 247.79 L264.24 247.81 L264.41 247.83 L264.57 247.85 L264.74 247.87 L264.9 247.89 L265.07 247.91 L265.23 247.93 L265.4 247.95 L265.56 247.97 L265.73 247.99 L265.89 248 L266.06 248.02 L266.23 248.04 L266.39 248.06 L266.56 248.07 L266.72 248.09 L266.89 248.11 L267.05 248.12 L267.22 248.14 L267.38 248.15 L267.55 248.17 L267.71 248.18 L267.88 248.2 L268.04 248.21 L268.21 248.23 L268.37 248.24 L268.54 248.25 L268.71 248.27 L268.87 248.28 L269.04 248.29 L269.2 248.31 L269.37 248.32 L269.53 248.33 L269.7 248.34 L269.86 248.36 L270.03 248.37 L270.19 248.38 L270.36 248.39 L270.52 248.4 L270.69 248.41 L270.85 248.42 L271.02 248.44 L271.19 248.45 L271.35 248.46 L271.52 248.47 L271.68 248.48 L271.85 248.49 L272.01 248.5 L272.18 248.51 L272.34 248.52 L272.51 248.53 L272.67 248.54 L272.84 248.54 L273 248.55 L273.17 248.56 L273.33 248.57 L273.5 248.58 L273.67 248.59 L273.83 248.6 L274 248.6 L274.16 248.61 L274.33 248.62 L274.49 248.63 L274.66 248.64 L274.82 248.64 L274.99 248.65 L275.15 248.66 L275.32 248.67 L275.48 248.67 L275.65 248.68 L275.81 248.69 L275.98 248.69 L276.15 248.7 L276.31 248.71 L276.48 248.71 L276.64 248.72 L276.81 248.73 L276.97 248.73 L277.14 248.74 L277.3 248.75 L277.47 248.75 L277.63 248.76 L277.8 248.76 L277.96 248.77 L278.13 248.78 L278.29 248.78 L278.46 248.79 L278.63 248.79 L278.79 248.8 L278.96 248.8 L279.12 248.81 L279.29 248.81 L279.45 248.82 L279.62 248.82 L279.78 248.83 L279.95 248.83 L280.11 248.84 L280.28 248.84 L280.44 248.85 L280.61 248.85 L280.77 248.86 L280.94 248.86 L281.11 248.86 L281.27 248.87 L281.44 248.87 L281.6 248.88 L281.77 248.88 L281.93 248.89 L282.1 248.89 L282.26 248.89 L282.43 248.9 L282.59 248.9 L282.76 248.91 L282.92 248.91 L283.09 248.91 L283.25 248.92 L283.42 248.92 L283.59 248.92 L283.75 248.93 L283.92 248.93 L284.08 248.93 L284.25 248.94 L284.41 248.94 L284.58 248.94 L284.74 248.95 L284.91 248.95 L285.07 248.95 L285.24 248.96 L285.4 248.96 L285.57 248.96 L285.73 248.96 L285.9 248.97 L286.07 248.97 L286.23 248.97 L286.4 248.98 L286.56 248.98 L286.73 248.98 L286.89 248.98 L287.06 248.99 L287.22 248.99 L287.39 248.99 L287.55 248.99 L287.72 249 L287.88 249 L288.05 249 L288.21 249 L288.38 249 L288.55 249.01 L288.71 249.01 L288.88 249.01 L289.04 249.01 L289.21 249.02 L289.37 249.02 L289.54 249.02 L289.7 249.02 L289.87 249.02 L290.03 249.02 L290.2 249.03 L290.36 249.03 L290.53 249.03 L290.69 249.03 L290.86 249.03 L291.03 249.04 L291.19 249.04 L291.36 249.04 L291.52 249.04 L291.69 249.04 L291.85 249.04 L292.02 249.04 L292.18 249.05 L292.35 249.05 L292.51 249.05 L292.68 249.05 L292.84 249.05 L293.01 249.05 L293.17 249.05 L293.34 249.06 L293.51 249.06 L293.67 249.06 L293.84 249.06 L294 249.06 L294.17 249.06 L294.33 249.06 L294.5 249.06 L294.66 249.06 L294.83 249.07 L294.99 249.07 L295.16 249.07 L295.32 249.07 L295.49 249.07 L295.65 249.07 L295.82 249.07 L295.98 249.07 L296.15 249.07 L296.32 249.07 L296.48 249.07 L296.65 249.07 L296.81 249.08 L296.98 249.08 L297.14 249.08 L297.31 249.08 L297.47 249.08 L297.64 249.08 L297.8 249.08 L297.97 249.08 L298.13 249.08 L298.3 249.08 L298.46 249.08 L298.63 249.08 L298.8 249.08 L298.96 249.08 L299.13 249.08 L299.29 249.08 L299.46 249.08 L299.62 249.08 L299.79 249.08 L299.95 249.08 L300.12 249.09 L300.28 249.09 L300.45 249.09 L300.61 249.09 L300.78 249.09 L300.94 249.09 L301.11 249.09 L301.28 249.09 L301.44 249.09 L301.61 249.09 L301.77 249.09 L301.94 249.09 L302.1 249.09 L302.27 249.09 L302.43 249.09 L302.6 249.09 L302.76 249.09 L302.93 249.09 L303.09 249.09 L303.26 249.09 L303.42 249.09 L303.59 249.09 L303.76 249.09 L303.92 249.09 L304.09 249.09 L304.25 249.09 L304.42 249.08 L304.58 249.08 L304.75 249.08 L304.91 249.08 L305.08 249.08 L305.24 249.08 L305.41 249.08 L305.57 249.08 L305.74 249.08 L305.9 249.08 L306.07 249.08 L306.24 249.08 L306.4 249.08 L306.57 249.08 L306.73 249.08 L306.9 249.08 L307.06 249.08 L307.23 249.08 L307.39 249.08 L307.56 249.08 L307.72 249.08 L307.89 249.08 L308.05 249.07 L308.22 249.07 L308.38 249.07 L308.55 249.07 L308.72 249.07 L308.88 249.07 L309.05 249.07 L309.21 249.07 L309.38 249.07 L309.54 249.07 L309.71 249.07 L309.87 249.07 L310.04 249.07 L310.2 249.06 L310.37 249.06 L310.53 249.06 L310.7 249.06 L310.86 249.06 L311.03 249.06 L311.2 249.06 L311.36 249.06 L311.53 249.06 L311.69 249.06 L311.86 249.05 L312.02 249.05 L312.19 249.05 L312.35 249.05 L312.52 249.05 L312.68 249.05 L312.85 249.05 L313.01 249.05 L313.18 249.05 L313.34 249.04 L313.51 249.04 L313.68 249.04 L313.84 249.04 L314.01 249.04 L314.17 249.04 L314.34 249.04 L314.5 249.04 L314.67 249.03 L314.83 249.03 L315 249.03 L315.16 249.03 L315.33 249.03 L315.49 249.03 L315.66 249.03 L315.82 249.02 L315.99 249.02 L316.16 249.02 L316.32 249.02 L316.49 249.02 L316.65 249.02 L316.82 249.02 L316.98 249.01 L317.15 249.01 L317.31 249.01 L317.48 249.01 L317.64 249.01 L317.81 249.01 L317.97 249 L318.14 249 L318.3 249 L318.47 249 L318.64 249 L318.8 249 L318.97 248.99 L319.13 248.99 L319.3 248.99 L319.46 248.99 L319.63 248.99 L319.79 248.98 L319.96 248.98 L320.12 248.98 L320.29 248.98 L320.45 248.98 L320.62 248.98 L320.78 248.97 L320.95 248.97 L321.12 248.97 L321.28 248.97 L321.45 248.96 L321.61 248.96 L321.78 248.96 L321.94 248.96 L322.11 248.96 L322.27 248.95 L322.44 248.95 L322.6 248.95 L322.77 248.95 L322.93 248.95 L323.1 248.94 L323.26 248.94 L323.43 248.94 L323.6 248.94 L323.76 248.93 L323.93 248.93 L324.09 248.93 L324.26 248.93 L324.42 248.93 L324.59 248.92 L324.75 248.92 L324.92 248.92 L325.08 248.92 L325.25 248.91 L325.41 248.91 L325.58 248.91 L325.74 248.91 L325.91 248.9 L326.08 248.9 L326.24 248.9 L326.41 248.9 L326.57 248.89 L326.74 248.89 L326.9 248.89 L327.07 248.88 L327.23 248.88 L327.4 248.88 L327.56 248.88 L327.73 248.87 L327.89 248.87 L328.06 248.87 L328.22 248.87 L328.39 248.86 L328.56 248.86 L328.72 248.86 L328.89 248.85 L329.05 248.85 L329.22 248.85 L329.38 248.84 L329.55 248.84 L329.71 248.84 L329.88 248.84 L330.04 248.83 L330.21 248.83 L330.37 248.83 L330.54 248.82 L330.7 248.82 L330.87 248.82 L331.04 248.81 L331.2 248.81 L331.37 248.81 L331.53 248.8 L331.7 248.8 L331.86 248.8 L332.03 248.79 L332.19 248.79 L332.36 248.79 L332.52 248.78 L332.69 248.78 L332.85 248.78 L333.02 248.77 L333.18 248.77 L333.35 248.77 L333.52 248.76 L333.68 248.76 L333.85 248.76 L334.01 248.75 L334.18 248.75 L334.34 248.75 L334.51 248.74 L334.67 248.74 L334.84 248.73 L335 248.73 L335.17 248.73 L335.33 248.72 L335.5 248.72 L335.66 248.72 L335.83 248.71 L336 248.71 L336.16 248.7 L336.33 248.7 L336.49 248.7 L336.66 248.69 L336.82 248.69 L336.99 248.68 L337.15 248.68 L337.32 248.68 L337.48 248.67 L337.65 248.67 L337.81 248.66 L337.98 248.66 L338.14 248.66 L338.31 248.65 L338.48 248.65 L338.64 248.64 L338.81 248.64 L338.97 248.63 L339.14 248.63 L339.3 248.63 L339.47 248.62 L339.63 248.62 L339.8 248.61 L339.96 248.61 L340.13 248.6 L340.29 248.6 L340.46 248.59 L340.62 248.59 L340.79 248.58 L340.96 248.58 L341.12 248.58 L341.29 248.57 L341.45 248.57 L341.62 248.56 L341.78 248.56 L341.95 248.55 L342.11 248.55 L342.28 248.54 L342.44 248.54 L342.61 248.53 L342.77 248.53 L342.94 248.52 L343.1 248.52 L343.27 248.51 L343.44 248.51 L343.6 248.5 L343.77 248.5 L343.93 248.49 L344.1 248.49 L344.26 248.48 L344.43 248.48 L344.59 248.47 L344.76 248.46 L344.92 248.46 L345.09 248.45 L345.25 248.45 L345.42 248.44 L345.58 248.44 L345.75 248.43 L345.92 248.43 L346.08 248.42 L346.25 248.41 L346.41 248.41 L346.58 248.4 L346.74 248.4 L346.91 248.39 L347.07 248.39 L347.24 248.38 L347.4 248.37 L347.57 248.37 L347.73 248.36 L347.9 248.36 L348.06 248.35 L348.23 248.34 L348.4 248.34 L348.56 248.33 L348.73 248.33 L348.89 248.32 L349.06 248.31 L349.22 248.31 L349.39 248.3 L349.55 248.29 L349.72 248.29 L349.88 248.28 L350.05 248.27 L350.21 248.27 L350.38 248.26 L350.54 248.25 L350.71 248.25 L350.88 248.24 L351.04 248.23 L351.21 248.23 L351.37 248.22 L351.54 248.21 L351.7 248.21 L351.87 248.2 L352.03 248.19 L352.2 248.19 L352.36 248.18 L352.53 248.17 L352.69 248.16 L352.86 248.16 L353.02 248.15 L353.19 248.14 L353.36 248.14 L353.52 248.13 L353.69 248.12 L353.85 248.11 L354.02 248.11 L354.18 248.1 L354.35 248.09 L354.51 248.08 L354.68 248.07 L354.84 248.07 L355.01 248.06 L355.17 248.05 L355.34 248.04 L355.5 248.04 L355.67 248.03 L355.84 248.02 L356 248.01 L356.17 248 L356.33 247.99 L356.5 247.99 L356.66 247.98 L356.83 247.97 L356.99 247.96 L357.16 247.95 L357.32 247.94 L357.49 247.94 L357.65 247.93 L357.82 247.92 L357.98 247.91 L358.15 247.9 L358.32 247.89 L358.48 247.88 L358.65 247.87 L358.81 247.87 L358.98 247.86 L359.14 247.85 L359.31 247.84 L359.47 247.83 L359.64 247.82 L359.8 247.81 L359.97 247.8 L360.13 247.79 L360.3 247.78 L360.46 247.77 L360.63 247.76 L360.8 247.75 L360.96 247.74 L361.13 247.73 L361.29 247.72 L361.46 247.71 L361.62 247.7 L361.79 247.69 L361.95 247.68 L362.12 247.67 L362.28 247.66 L362.45 247.65 L362.61 247.64 L362.78 247.63 L362.94 247.62 L363.11 247.61 L363.28 247.6 L363.44 247.59 L363.61 247.58 L363.77 247.57 L363.94 247.56 L364.1 247.55 L364.27 247.54 L364.43 247.52 L364.6 247.51 L364.76 247.5 L364.93 247.49 L365.09 247.48 L365.26 247.47 L365.42 247.46 L365.59 247.45 L365.76 247.43 L365.92 247.42 L366.09 247.41 L366.25 247.4 L366.42 247.39 L366.58 247.37 L366.75 247.36 L366.91 247.35 L367.08 247.34 L367.24 247.33 L367.41 247.31 L367.57 247.3 L367.74 247.29 L367.9 247.28 L368.07 247.26 L368.24 247.25 L368.4 247.24 L368.57 247.22 L368.73 247.21 L368.9 247.2 L369.06 247.18 L369.23 247.17 L369.39 247.16 L369.56 247.14 L369.72 247.13 L369.89 247.12 L370.05 247.1 L370.22 247.09 L370.38 247.08 L370.55 247.06 L370.72 247.05 L370.88 247.03 L371.05 247.02 L371.21 247 L371.38 246.99 L371.54 246.98 L371.71 246.96 L371.87 246.95 L372.04 246.93 L372.2 246.92 L372.37 246.9 L372.53 246.89 L372.7 246.87 L372.86 246.86 L373.03 246.84 L373.2 246.82 L373.36 246.81 L373.53 246.79 L373.69 246.78 L373.86 246.76 L374.02 246.75 L374.19 246.73 L374.35 246.71 L374.52 246.7 L374.68 246.68 L374.85 246.66 L375.01 246.65 L375.18 246.63 L375.34 246.61 L375.51 246.6 L375.68 246.58 L375.84 246.56 L376.01 246.54 L376.17 246.53 L376.34 246.51 L376.5 246.49 L376.67 246.47 L376.83 246.46 L377 246.44 L377.16 246.42 L377.33 246.4 L377.49 246.38 L377.66 246.36 L377.82 246.34 L377.99 246.33 L378.16 246.31 L378.32 246.29 L378.49 246.27 L378.65 246.25 L378.82 246.23 L378.98 246.21 L379.15 246.19 L379.31 246.17 L379.48 246.15 L379.64 246.13 L379.81 246.11 L379.97 246.09 L380.14 246.07 L380.3 246.05 L380.47 246.03 L380.64 246.01 L380.8 245.99 L380.97 245.96 L381.13 245.94 L381.3 245.92 L381.46 245.9 L381.63 245.88 L381.79 245.86 L381.96 245.83 L382.12 245.81 L382.29 245.79 L382.45 245.77 L382.62 245.74 L382.78 245.72 L382.95 245.7 L383.12 245.67 L383.28 245.65 L383.45 245.63 L383.61 245.6 L383.78 245.58 L383.94 245.55 L384.11 245.53 L384.27 245.51 L384.44 245.48 L384.6 245.46 L384.77 245.43 L384.93 245.41 L385.1 245.38 L385.26 245.35 L385.43 245.33 L385.6 245.3 L385.76 245.28 L385.93 245.25 L386.09 245.22 L386.26 245.2 L386.42 245.17 L386.59 245.14 L386.75 245.12 L386.92 245.09 L387.08 245.06 L387.25 245.03 L387.41 245 L387.58 244.98 L387.74 244.95 L387.91 244.92 L388.08 244.89 L388.24 244.86 L388.41 244.83 L388.57 244.8 L388.74 244.77 L388.9 244.74 L389.07 244.71 L389.23 244.68 L389.4 244.65 L389.56 244.62 L389.73 244.59 L389.89 244.56 L390.06 244.52 L390.22 244.49 L390.39 244.46 L390.56 244.43 L390.72 244.39 L390.89 244.36 L391.05 244.33 L391.22 244.29 L391.38 244.26 L391.55 244.23 L391.71 244.19 L391.88 244.16 L392.04 244.12 L392.21 244.09 L392.37 244.05 L392.54 244.02 L392.7 243.98 L392.87 243.94 L393.04 243.91 L393.2 243.87 L393.37 243.83 L393.53 243.8 L393.7 243.76 L393.86 243.72 L394.03 243.68 L394.19 243.64 L394.36 243.6 L394.52 243.56 L394.69 243.52 L394.85 243.48 L395.02 243.44 L395.18 243.4 L395.35 243.36 L395.52 243.32 L395.68 243.28 L395.85 243.24 L396.01 243.19 L396.18 243.15 L396.34 243.11 L396.51 243.06 L396.67 243.02 L396.84 242.97 L397 242.93 L397.17 242.88 L397.33 242.84 L397.5 242.79 L397.66 242.74 L397.83 242.7 L398 242.65 L398.16 242.6 L398.33 242.55 L398.49 242.5 L398.66 242.45 L398.82 242.4 L398.99 242.35 L399.15 242.3 L399.32 242.25 L399.48 242.2 L399.65 242.15 L399.81 242.1 L399.98 242.04 L400.14 241.99 L400.31 241.93 L400.48 241.88 L400.64 241.82 L400.81 241.77 L400.97 241.71 L401.14 241.65 L401.3 241.6 L401.47 241.54 L401.63 241.48 L401.8 241.42 L401.96 241.36 L402.13 241.3 L402.29 241.24 L402.46 241.17 L402.62 241.11 L402.79 241.05 L402.96 240.98 L403.12 240.92 L403.29 240.85 L403.45 240.78 L403.62 240.72 L403.78 240.65 L403.95 240.58 L404.11 240.51 L404.28 240.44 L404.44 240.37 L404.61 240.3 L404.77 240.22 L404.94 240.15 L405.1 240.07 L405.27 240 L405.44 239.92 L405.6 239.84 L405.77 239.76 L405.93 239.68 L406.1 239.6 L406.26 239.52 L406.43 239.43 L406.59 239.35 L406.76 239.26 L406.92 239.18 L407.09 239.09 L407.25 239 L407.42 238.91 L407.58 238.82 L407.75 238.72 L407.92 238.63 L408.08 238.53 L408.25 238.43 L408.41 238.33 L408.58 238.23 L408.74 238.13 L408.91 238.03 L409.07 237.92 L409.24 237.81 L409.4 237.7 L409.57 237.59 L409.73 237.48 L409.9 237.36 L410.06 237.24 L410.23 237.12 L410.39 237 L410.56 236.87 L410.73 236.75 L410.89 236.62 L411.06 236.48 L411.22 236.35 L411.39 236.21 L411.55 236.07 L411.72 235.93 L411.88 235.78 L412.05 235.63 L412.21 235.47 L412.38 235.31 L412.54 235.15 L412.71 234.99 L412.87 234.82 L413.04 234.64 L413.21 234.46 L413.37 234.28 L413.54 234.09 L413.7 233.89 L413.87 233.69 L414.03 233.48 L414.2 233.27 L414.36 233.05 L414.53 232.82 L414.69 232.58 L414.86 232.33 L415.02 232.08 L415.19 231.81 L415.35 231.53 L415.52 231.24 L415.69 230.94 L415.85 230.63 L416.02 230.29 L416.18 229.95 L416.35 229.58 L416.51 229.19 L416.68 228.78 L416.84 228.34 L417.01 227.86 L417.17 227.36 L417.34 226.81 L417.5 226.21 L417.67 225.56 L417.83 224.84 L418 224.03 L418.17 223.11 L418.33 222.04 L418.5 220.78 L418.66 219.24 L418.83 217.26 L418.99 214.53 L419.16 210.64 L419.29 208.54 L419.32 208.69 L419.49 212.41 L419.65 215.79 L419.82 218.15 L419.98 219.92 L420.15 221.34 L420.31 222.51 L420.48 223.51 L420.65 224.38 L420.81 225.15 L420.98 225.84 L421.14 226.47 L421.31 227.05 L421.47 227.58 L421.64 228.07 L421.8 228.53 L421.97 228.95 L422.13 229.36 L422.3 229.74 L422.46 230.1 L422.63 230.44 L422.79 230.77 L422.96 231.08 L423.13 231.37 L423.29 231.66 L423.46 231.93 L423.62 232.19 L423.79 232.44 L423.95 232.69 L424.12 232.92 L424.28 233.15 L424.45 233.36 L424.61 233.58 L424.78 233.78 L424.94 233.98 L425.11 234.18 L425.27 234.36 L425.44 234.55 L425.61 234.72 L425.77 234.9 L425.94 235.07 L426.1 235.23 L426.27 235.39 L426.43 235.55 L426.6 235.7 L426.76 235.85 L426.93 236 L427.09 236.14 L427.26 236.28 L427.42 236.42 L427.59 236.55 L427.75 236.68 L427.92 236.81 L428.09 236.94 L428.25 237.06 L428.42 237.19 L428.58 237.31 L428.75 237.42 L428.91 237.54 L429.08 237.65 L429.24 237.76 L429.41 237.87 L429.57 237.98 L429.74 238.08 L429.9 238.19 L430.07 238.29 L430.23 238.39 L430.4 238.49 L430.57 238.59 L430.73 238.68 L430.9 238.78 L431.06 238.87 L431.23 238.96 L431.39 239.06 L431.56 239.14 L431.72 239.23 L431.89 239.32 L432.05 239.4 L432.22 239.49 L432.38 239.57 L432.55 239.65 L432.71 239.74 L432.88 239.82 L433.05 239.89 L433.21 239.97 L433.38 240.05 L433.54 240.13 L433.71 240.2 L433.87 240.27 L434.04 240.35 L434.2 240.42 L434.37 240.49 L434.53 240.56 L434.7 240.63 L434.86 240.7 L435.03 240.77 L435.19 240.84 L435.36 240.9 L435.53 240.97 L435.69 241.03 L435.86 241.1 L436.02 241.16 L436.19 241.23 L436.35 241.29 L436.52 241.35 L436.68 241.41 L436.85 241.47 L437.01 241.53 L437.18 241.59 L437.34 241.65 L437.51 241.71 L437.67 241.76 L437.84 241.82 L438.01 241.88 L438.17 241.93 L438.34 241.99 L438.5 242.04 L438.67 242.09 L438.83 242.15 L439 242.2 L439.16 242.25 L439.33 242.31 L439.49 242.36 L439.66 242.41 L439.82 242.46 L439.99 242.51 L440.15 242.56 L440.32 242.61 L440.49 242.65 L440.65 242.7 L440.82 242.75 L440.98 242.8 L441.15 242.84 L441.31 242.89 L441.48 242.94 L441.64 242.98 L441.81 243.03 L441.97 243.07 L442.14 243.12 L442.3 243.16 L442.47 243.2 L442.63 243.25 L442.8 243.29 L442.97 243.33 L443.13 243.37 L443.3 243.42 L443.46 243.46 L443.63 243.5 L443.79 243.54 L443.96 243.58 L444.12 243.62 L444.29 243.66 L444.45 243.7 L444.62 243.74 L444.78 243.78 L444.95 243.81 L445.11 243.85 L445.28 243.89 L445.45 243.93 L445.61 243.96 L445.78 244 L445.94 244.04 L446.11 244.07 L446.27 244.11 L446.44 244.15 L446.6 244.18 L446.77 244.22 L446.93 244.25 L447.1 244.29 L447.26 244.32 L447.43 244.35 L447.59 244.39 L447.76 244.42 L447.93 244.45 L448.09 244.49 L448.26 244.52 L448.42 244.55 L448.59 244.58 L448.75 244.62 L448.92 244.65 L449.08 244.68 L449.25 244.71 L449.41 244.74 L449.58 244.77 L449.74 244.8 L449.91 244.83 L450.07 244.86 L450.24 244.89 L450.41 244.92 L450.57 244.95 L450.74 244.98 L450.9 245.01 L451.07 245.04 L451.23 245.07 L451.4 245.1 L451.56 245.12 L451.73 245.15 L451.89 245.18 L452.06 245.21 L452.22 245.23 L452.39 245.26 L452.55 245.29 L452.72 245.32 L452.89 245.34 L453.05 245.37 L453.22 245.39 L453.38 245.42 L453.55 245.45 L453.71 245.47 L453.88 245.5 L454.04 245.52 L454.21 245.55 L454.37 245.57 L454.54 245.6 L454.7 245.62 L454.87 245.65 L455.03 245.67 L455.2 245.69 L455.37 245.72 L455.53 245.74 L455.7 245.77 L455.86 245.79 L456.03 245.81 L456.19 245.84 L456.36 245.86 L456.52 245.88 L456.69 245.9 L456.85 245.93 L457.02 245.95 L457.18 245.97 L457.35 245.99 L457.51 246.01 L457.68 246.04 L457.85 246.06 L458.01 246.08 L458.18 246.1 L458.34 246.12 L458.51 246.14 L458.67 246.16 L458.84 246.18 L459 246.2 L459.17 246.22 L459.33 246.25 L459.5 246.27 L459.66 246.29 L459.83 246.31 L459.99 246.33 L460.16 246.34 L460.33 246.36 L460.49 246.38 L460.66 246.4 L460.82 246.42 L460.99 246.44 L461.15 246.46 L461.32 246.48 L461.48 246.5 L461.65 246.52 L461.81 246.53 L461.98 246.55 L462.14 246.57 L462.31 246.59 L462.47 246.61 L462.64 246.62 L462.81 246.64 L462.97 246.66 L463.14 246.68 L463.3 246.69 L463.47 246.71 L463.63 246.73 L463.8 246.75 L463.96 246.76 L464.13 246.78 L464.29 246.8 L464.46 246.81 L464.62 246.83 L464.79 246.84 L464.95 246.86 L465.12 246.88 L465.29 246.89 L465.45 246.91 L465.62 246.92 L465.78 246.94 L465.95 246.96 L466.11 246.97 L466.28 246.99 L466.44 247 L466.61 247.02 L466.77 247.03 L466.94 247.05 L467.1 247.06 L467.27 247.08 L467.43 247.09 L467.6 247.11" stroke="#0072BD"/>
<path d="M47.5 241.86 L47.76 241.97 L48.03 242.08 L48.29 242.18 L48.55 242.28 L48.81 242.39 L49.08 242.48 L49.34 242.58 L49.6 242.67 L49.86 242.77 L50.13 242.86 L50.39 242.94 L50.65 243.03 L50.92 243.11 L51.18 243.2 L51.44 243.28 L51.7 243.36 L51.97 243.44 L52.23 243.51 L52.49 243.59 L52.75 243.66 L53.02 243.73 L53.28 243.81 L53.54 243.88 L53.81 243.94 L54.07 244.01 L54.33 244.08 L54.59 244.14 L54.86 244.21 L55.12 244.27 L55.38 244.33 L55.64 244.39 L55.91 244.45 L56.17 244.51 L56.43 244.57 L56.7 244.62 L56.96 244.68 L57.22 244.74 L57.48 244.79 L57.75 244.84 L58.01 244.9 L58.27 244.95 L58.53 245 L58.8 245.05 L59.06 245.1 L59.32 245.15 L59.59 245.19 L59.85 245.24 L60.11 245.29 L60.37 245.33 L60.64 245.38 L60.9 245.42 L61.16 245.47 L61.42 245.51 L61.69 245.55 L61.95 245.59 L62.21 245.63 L62.48 245.67 L62.74 245.71 L63 245.75 L63.26 245.79 L63.53 245.83 L63.79 245.87 L64.05 245.91 L64.31 245.94 L64.58 245.98 L64.84 246.02 L65.1 246.05 L65.37 246.09 L65.63 246.12 L65.89 246.15 L66.15 246.19 L66.42 246.22 L66.68 246.25 L66.94 246.28 L67.2 246.32 L67.47 246.35 L67.73 246.38 L67.99 246.41 L68.26 246.44 L68.52 246.47 L68.78 246.5 L69.04 246.53 L69.31 246.56 L69.57 246.58 L69.83 246.61 L70.09 246.64 L70.36 246.67 L70.62 246.69 L70.88 246.72 L71.15 246.75 L71.41 246.77 L71.67 246.8 L71.93 246.82 L72.2 246.85 L72.46 246.87 L72.72 246.89 L72.98 246.92 L73.25 246.94 L73.51 246.96 L73.77 246.99 L74.04 247.01 L74.3 247.03 L74.56 247.05 L74.82 247.08 L75.09 247.1 L75.35 247.12 L75.61 247.14 L75.87 247.16 L76.14 247.18 L76.4 247.2 L76.66 247.22 L76.93 247.24 L77.19 247.26 L77.45 247.28 L77.71 247.3 L77.98 247.32 L78.24 247.34 L78.5 247.35 L78.76 247.37 L79.03 247.39 L79.29 247.41 L79.55 247.42 L79.82 247.44 L80.08 247.46 L80.34 247.48 L80.6 247.49 L80.87 247.51 L81.13 247.52 L81.39 247.54 L81.65 247.56 L81.92 247.57 L82.18 247.59 L82.44 247.6 L82.71 247.62 L82.97 247.63 L83.23 247.65 L83.49 247.66 L83.76 247.67 L84.02 247.69 L84.28 247.7 L84.54 247.72 L84.81 247.73 L85.07 247.74 L85.33 247.76 L85.6 247.77 L85.86 247.78 L86.12 247.79 L86.38 247.81 L86.65 247.82 L86.91 247.83 L87.17 247.84 L87.43 247.85 L87.7 247.87 L87.96 247.88 L88.22 247.89 L88.49 247.9 L88.75 247.91 L89.01 247.92 L89.27 247.93 L89.54 247.94 L89.8 247.95 L90.06 247.96 L90.32 247.98 L90.59 247.99 L90.85 248 L91.11 248 L91.38 248.01 L91.64 248.02 L91.9 248.03 L92.16 248.04 L92.43 248.05 L92.69 248.06 L92.95 248.07 L93.21 248.08 L93.48 248.09 L93.74 248.1 L94 248.1 L94.27 248.11 L94.53 248.12 L94.79 248.13 L95.05 248.14 L95.32 248.14 L95.58 248.15 L95.84 248.16 L96.1 248.17 L96.37 248.17 L96.63 248.18 L96.89 248.19 L97.16 248.2 L97.42 248.2 L97.68 248.21 L97.94 248.22 L98.21 248.22 L98.47 248.23 L98.73 248.24 L98.99 248.24 L99.26 248.25 L99.52 248.25 L99.78 248.26 L100.05 248.27 L100.31 248.27 L100.57 248.28 L100.83 248.28 L101.1 248.29 L101.36 248.29 L101.62 248.3 L101.88 248.3 L102.15 248.31 L102.41 248.31 L102.67 248.32 L102.94 248.32 L103.2 248.33 L103.46 248.33 L103.72 248.34 L103.99 248.34 L104.25 248.35 L104.51 248.35 L104.77 248.36 L105.04 248.36 L105.3 248.36 L105.56 248.37 L105.83 248.37 L106.09 248.38 L106.35 248.38 L106.61 248.38 L106.88 248.39 L107.14 248.39 L107.4 248.39 L107.66 248.4 L107.93 248.4 L108.19 248.4 L108.45 248.41 L108.72 248.41 L108.98 248.41 L109.24 248.41 L109.5 248.42 L109.77 248.42 L110.03 248.42 L110.29 248.43 L110.55 248.43 L110.82 248.43 L111.08 248.43 L111.34 248.43 L111.61 248.44 L111.87 248.44 L112.13 248.44 L112.39 248.44 L112.66 248.44 L112.92 248.45 L113.18 248.45 L113.44 248.45 L113.71 248.45 L113.97 248.45 L114.23 248.45 L114.5 248.46 L114.76 248.46 L115.02 248.46 L115.28 248.46 L115.55 248.46 L115.81 248.46 L116.07 248.46 L116.33 248.46 L116.6 248.46 L116.86 248.46 L117.12 248.47 L117.39 248.47 L117.65 248.47 L117.91 248.47 L118.17 248.47 L118.44 248.47 L118.7 248.47 L118.96 248.47 L119.22 248.47 L119.49 248.47 L119.75 248.47 L120.01 248.47 L120.28 248.47 L120.54 248.47 L120.8 248.47 L121.06 248.47 L121.33 248.47 L121.59 248.47 L121.85 248.47 L122.11 248.47 L122.38 248.47 L122.64 248.47 L122.9 248.46 L123.17 248.46 L123.43 248.46 L123.69 248.46 L123.95 248.46 L124.22 248.46 L124.48 248.46 L124.74 248.46 L125 248.46 L125.27 248.46 L125.53 248.45 L125.79 248.45 L126.06 248.45 L126.32 248.45 L126.58 248.45 L126.84 248.45 L127.11 248.45 L127.37 248.44 L127.63 248.44 L127.89 248.44 L128.16 248.44 L128.42 248.44 L128.68 248.43 L128.95 248.43 L129.21 248.43 L129.47 248.43 L129.73 248.43 L130 248.42 L130.26 248.42 L130.52 248.42 L130.78 248.42 L131.05 248.41 L131.31 248.41 L131.57 248.41 L131.84 248.41 L132.1 248.4 L132.36 248.4 L132.62 248.4 L132.89 248.4 L133.15 248.39 L133.41 248.39 L133.67 248.39 L133.94 248.38 L134.2 248.38 L134.46 248.38 L134.73 248.37 L134.99 248.37 L135.25 248.37 L135.51 248.36 L135.78 248.36 L136.04 248.36 L136.3 248.35 L136.56 248.35 L136.83 248.35 L137.09 248.34 L137.35 248.34 L137.62 248.34 L137.88 248.33 L138.14 248.33 L138.4 248.32 L138.67 248.32 L138.93 248.32 L139.19 248.31 L139.45 248.31 L139.72 248.3 L139.98 248.3 L140.24 248.29 L140.51 248.29 L140.77 248.29 L141.03 248.28 L141.29 248.28 L141.56 248.27 L141.82 248.27 L142.08 248.26 L142.34 248.26 L142.61 248.25 L142.87 248.25 L143.13 248.24 L143.4 248.24 L143.66 248.23 L143.92 248.23 L144.18 248.22 L144.45 248.22 L144.71 248.21 L144.97 248.21 L145.23 248.2 L145.5 248.2 L145.76 248.19 L146.02 248.18 L146.29 248.18 L146.55 248.17 L146.81 248.17 L147.07 248.16 L147.34 248.16 L147.6 248.15 L147.86 248.14 L148.12 248.14 L148.39 248.13 L148.65 248.13 L148.91 248.12 L149.18 248.11 L149.44 248.11 L149.7 248.1 L149.96 248.09 L150.23 248.09 L150.49 248.08 L150.75 248.07 L151.01 248.07 L151.28 248.06 L151.54 248.05 L151.8 248.05 L152.07 248.04 L152.33 248.03 L152.59 248.03 L152.85 248.02 L153.12 248.01 L153.38 248.01 L153.64 248 L153.9 247.99 L154.17 247.98 L154.43 247.98 L154.69 247.97 L154.96 247.96 L155.22 247.95 L155.48 247.95 L155.74 247.94 L156.01 247.93 L156.27 247.92 L156.53 247.91 L156.79 247.91 L157.06 247.9 L157.32 247.89 L157.58 247.88 L157.85 247.87 L158.11 247.87 L158.37 247.86 L158.63 247.85 L158.9 247.84 L159.16 247.83 L159.42 247.82 L159.68 247.82 L159.95 247.81 L160.21 247.8 L160.47 247.79 L160.74 247.78 L161 247.77 L161.26 247.76 L161.52 247.75 L161.79 247.74 L162.05 247.73 L162.31 247.73 L162.57 247.72 L162.84 247.71 L163.1 247.7 L163.36 247.69 L163.63 247.68 L163.89 247.67 L164.15 247.66 L164.41 247.65 L164.68 247.64 L164.94 247.63 L165.2 247.62 L165.46 247.61 L165.73 247.6 L165.99 247.59 L166.25 247.58 L166.52 247.57 L166.78 247.56 L167.04 247.55 L167.3 247.54 L167.57 247.53 L167.83 247.52 L168.09 247.5 L168.35 247.49 L168.62 247.48 L168.88 247.47 L169.14 247.46 L169.41 247.45 L169.67 247.44 L169.93 247.43 L170.19 247.42 L170.46 247.4 L170.72 247.39 L170.98 247.38 L171.24 247.37 L171.51 247.36 L171.77 247.35 L172.03 247.33 L172.3 247.32 L172.56 247.31 L172.82 247.3 L173.08 247.29 L173.35 247.27 L173.61 247.26 L173.87 247.25 L174.13 247.24 L174.4 247.22 L174.66 247.21 L174.92 247.2 L175.19 247.19 L175.45 247.17 L175.71 247.16 L175.97 247.15 L176.24 247.13 L176.5 247.12 L176.76 247.11 L177.02 247.09 L177.29 247.08 L177.55 247.07 L177.81 247.05 L178.08 247.04 L178.34 247.02 L178.6 247.01 L178.86 247 L179.13 246.98 L179.39 246.97 L179.65 246.95 L179.91 246.94 L180.18 246.92 L180.44 246.91 L180.7 246.9 L180.97 246.88 L181.23 246.87 L181.49 246.85 L181.75 246.84 L182.02 246.82 L182.28 246.8 L182.54 246.79 L182.8 246.77 L183.07 246.76 L183.33 246.74 L183.59 246.73 L183.86 246.71 L184.12 246.69 L184.38 246.68 L184.64 246.66 L184.91 246.65 L185.17 246.63 L185.43 246.61 L185.69 246.6 L185.96 246.58 L186.22 246.56 L186.48 246.55 L186.75 246.53 L187.01 246.51 L187.27 246.49 L187.53 246.48 L187.8 246.46 L188.06 246.44 L188.32 246.42 L188.58 246.41 L188.85 246.39 L189.11 246.37 L189.37 246.35 L189.64 246.33 L189.9 246.32 L190.16 246.3 L190.42 246.28 L190.69 246.26 L190.95 246.24 L191.21 246.22 L191.47 246.2 L191.74 246.18 L192 246.16 L192.26 246.14 L192.53 246.12 L192.79 246.1 L193.05 246.08 L193.31 246.06 L193.58 246.04 L193.84 246.02 L194.1 246 L194.36 245.98 L194.63 245.96 L194.89 245.94 L195.15 245.92 L195.42 245.9 L195.68 245.88 L195.94 245.86 L196.2 245.83 L196.47 245.81 L196.73 245.79 L196.99 245.77 L197.25 245.75 L197.52 245.72 L197.78 245.7 L198.04 245.68 L198.31 245.65 L198.57 245.63 L198.83 245.61 L199.09 245.58 L199.36 245.56 L199.62 245.54 L199.88 245.51 L200.14 245.49 L200.41 245.47 L200.67 245.44 L200.93 245.42 L201.2 245.39 L201.46 245.37 L201.72 245.34 L201.98 245.32 L202.25 245.29 L202.51 245.27 L202.77 245.24 L203.03 245.21 L203.3 245.19 L203.56 245.16 L203.82 245.13 L204.09 245.11 L204.35 245.08 L204.61 245.05 L204.87 245.03 L205.14 245 L205.4 244.97 L205.66 244.94 L205.92 244.91 L206.19 244.89 L206.45 244.86 L206.71 244.83 L206.98 244.8 L207.24 244.77 L207.5 244.74 L207.76 244.71 L208.03 244.68 L208.29 244.65 L208.55 244.62 L208.81 244.59 L209.08 244.56 L209.34 244.53 L209.6 244.49 L209.87 244.46 L210.13 244.43 L210.39 244.4 L210.65 244.37 L210.92 244.33 L211.18 244.3 L211.44 244.27 L211.7 244.23 L211.97 244.2 L212.23 244.17 L212.49 244.13 L212.76 244.1 L213.02 244.06 L213.28 244.03 L213.54 243.99 L213.81 243.95 L214.07 243.92 L214.33 243.88 L214.59 243.84 L214.86 243.81 L215.12 243.77 L215.38 243.73 L215.65 243.69 L215.91 243.65 L216.17 243.62 L216.43 243.58 L216.7 243.54 L216.96 243.5 L217.22 243.46 L217.48 243.42 L217.75 243.37 L218.01 243.33 L218.27 243.29 L218.54 243.25 L218.8 243.21 L219.06 243.16 L219.32 243.12 L219.59 243.08 L219.85 243.03 L220.11 242.99 L220.37 242.94 L220.64 242.9 L220.9 242.85 L221.16 242.8 L221.43 242.75 L221.69 242.71 L221.95 242.66 L222.21 242.61 L222.48 242.56 L222.74 242.51 L223 242.46 L223.26 242.41 L223.53 242.36 L223.79 242.31 L224.05 242.25 L224.32 242.2 L224.58 242.15 L224.84 242.09 L225.1 242.04 L225.37 241.98 L225.63 241.93 L225.89 241.87 L226.15 241.81 L226.42 241.75 L226.68 241.7 L226.94 241.64 L227.21 241.58 L227.47 241.51 L227.73 241.45 L227.99 241.39 L228.26 241.33 L228.52 241.26 L228.78 241.2 L229.04 241.13 L229.31 241.06 L229.57 241 L229.83 240.93 L230.1 240.86 L230.36 240.79 L230.62 240.71 L230.88 240.64 L231.15 240.57 L231.41 240.49 L231.67 240.42 L231.93 240.34 L232.2 240.26 L232.46 240.18 L232.72 240.1 L232.99 240.02 L233.25 239.93 L233.51 239.85 L233.77 239.76 L234.04 239.68 L234.3 239.59 L234.56 239.5 L234.82 239.4 L235.09 239.31 L235.35 239.21 L235.61 239.11 L235.88 239.01 L236.14 238.91 L236.4 238.81 L236.66 238.7 L236.93 238.6 L237.19 238.49 L237.45 238.37 L237.71 238.26 L237.98 238.14 L238.24 238.02 L238.5 237.9 L238.77 237.77 L239.03 237.64 L239.29 237.51 L239.55 237.38 L239.82 237.24 L240.08 237.09 L240.34 236.95 L240.6 236.8 L240.87 236.64 L241.13 236.48 L241.39 236.32 L241.66 236.15 L241.92 235.97 L242.18 235.79 L242.44 235.6 L242.71 235.41 L242.97 235.21 L243.23 235 L243.49 234.78 L243.76 234.55 L244.02 234.32 L244.28 234.07 L244.55 233.81 L244.81 233.54 L245.07 233.25 L245.33 232.95 L245.6 232.63 L245.86 232.29 L246.12 231.93 L246.38 231.54 L246.65 231.12 L246.91 230.66 L247.17 230.17 L247.44 229.62 L247.7 229.02 L247.96 228.34 L248.22 227.56 L248.49 226.65 L248.75 225.56 L249.01 224.2 L249.27 222.39 L249.54 219.66 L249.8 214.12 L249.94 207.67 L250.06 215.73 L250.33 221.67 L250.59 224.46 L250.85 226.3 L251.11 227.67 L251.38 228.77 L251.64 229.68 L251.9 230.46 L252.16 231.14 L252.43 231.75 L252.69 232.29 L252.95 232.79 L253.22 233.24 L253.48 233.66 L253.74 234.05 L254 234.41 L254.27 234.75 L254.53 235.07 L254.79 235.37 L255.05 235.65 L255.32 235.92 L255.58 236.18 L255.84 236.43 L256.11 236.66 L256.37 236.88 L256.63 237.1 L256.89 237.31 L257.16 237.51 L257.42 237.7 L257.68 237.88 L257.94 238.06 L258.21 238.23 L258.47 238.4 L258.73 238.56 L258.99 238.72 L259.26 238.87 L259.52 239.02 L259.78 239.16 L260.05 239.3 L260.31 239.44 L260.57 239.57 L260.83 239.7 L261.1 239.83 L261.36 239.95 L261.62 240.07 L261.88 240.19 L262.15 240.3 L262.41 240.41 L262.67 240.52 L262.94 240.63 L263.2 240.73 L263.46 240.84 L263.72 240.94 L263.99 241.03 L264.25 241.13 L264.51 241.23 L264.77 241.32 L265.04 241.41 L265.3 241.5 L265.56 241.59 L265.83 241.67 L266.09 241.76 L266.35 241.84 L266.61 241.92 L266.88 242 L267.14 242.08 L267.4 242.16 L267.66 242.23 L267.93 242.31 L268.19 242.38 L268.45 242.45 L268.72 242.52 L268.98 242.59 L269.24 242.66 L269.5 242.73 L269.77 242.8 L270.03 242.86 L270.29 242.93 L270.55 242.99 L270.82 243.06 L271.08 243.12 L271.34 243.18 L271.61 243.24 L271.87 243.3 L272.13 243.36 L272.39 243.41 L272.66 243.47 L272.92 243.53 L273.18 243.58 L273.44 243.64 L273.71 243.69 L273.97 243.75 L274.23 243.8 L274.5 243.85 L274.76 243.9 L275.02 243.95 L275.28 244 L275.55 244.05 L275.81 244.1 L276.07 244.15 L276.33 244.2 L276.6 244.24 L276.86 244.29 L277.12 244.34 L277.39 244.38 L277.65 244.43 L277.91 244.47 L278.17 244.51 L278.44 244.56 L278.7 244.6 L278.96 244.64 L279.22 244.68 L279.49 244.73 L279.75 244.77 L280.01 244.81 L280.28 244.85 L280.54 244.89 L280.8 244.92 L281.06 244.96 L281.33 245 L281.59 245.04 L281.85 245.08 L282.11 245.11 L282.38 245.15 L282.64 245.19 L282.9 245.22 L283.17 245.26 L283.43 245.29 L283.69 245.33 L283.95 245.36 L284.22 245.39 L284.48 245.43 L284.74 245.46 L285 245.49 L285.27 245.53 L285.53 245.56 L285.79 245.59 L286.06 245.62 L286.32 245.65 L286.58 245.68 L286.84 245.71 L287.11 245.74 L287.37 245.77 L287.63 245.8 L287.89 245.83 L288.16 245.86 L288.42 245.89 L288.68 245.92 L288.95 245.95 L289.21 245.98 L289.47 246 L289.73 246.03 L290 246.06 L290.26 246.09 L290.52 246.11 L290.78 246.14 L291.05 246.16 L291.31 246.19 L291.57 246.22 L291.84 246.24 L292.1 246.27 L292.36 246.29 L292.62 246.32 L292.89 246.34 L293.15 246.36 L293.41 246.39 L293.67 246.41 L293.94 246.44 L294.2 246.46 L294.46 246.48 L294.73 246.5 L294.99 246.53 L295.25 246.55 L295.51 246.57 L295.78 246.59 L296.04 246.62 L296.3 246.64 L296.56 246.66 L296.83 246.68 L297.09 246.7 L297.35 246.72 L297.62 246.74 L297.88 246.76 L298.14 246.78 L298.4 246.8 L298.67 246.82 L298.93 246.84 L299.19 246.86 L299.45 246.88 L299.72 246.9 L299.98 246.92 L300.24 246.94 L300.51 246.96 L300.77 246.98 L301.03 246.99 L301.29 247.01 L301.56 247.03 L301.82 247.05 L302.08 247.07 L302.34 247.08 L302.61 247.1 L302.87 247.12 L303.13 247.13 L303.4 247.15 L303.66 247.17 L303.92 247.18 L304.18 247.2 L304.45 247.22 L304.71 247.23 L304.97 247.25 L305.23 247.27 L305.5 247.28 L305.76 247.3 L306.02 247.31 L306.29 247.33 L306.55 247.34 L306.81 247.36 L307.07 247.37 L307.34 247.39 L307.6 247.4 L307.86 247.42 L308.12 247.43 L308.39 247.45 L308.65 247.46 L308.91 247.47 L309.18 247.49 L309.44 247.5 L309.7 247.51 L309.96 247.53 L310.23 247.54 L310.49 247.55 L310.75 247.57 L311.01 247.58 L311.28 247.59 L311.54 247.61 L311.8 247.62 L312.07 247.63 L312.33 247.64 L312.59 247.66 L312.85 247.67 L313.12 247.68 L313.38 247.69 L313.64 247.7 L313.9 247.72 L314.17 247.73 L314.43 247.74 L314.69 247.75 L314.96 247.76 L315.22 247.77 L315.48 247.78 L315.74 247.8 L316.01 247.81 L316.27 247.82 L316.53 247.83 L316.79 247.84 L317.06 247.85 L317.32 247.86 L317.58 247.87 L317.85 247.88 L318.11 247.89 L318.37 247.9 L318.63 247.91 L318.9 247.92 L319.16 247.93 L319.42 247.94 L319.68 247.95 L319.95 247.96 L320.21 247.97 L320.47 247.98 L320.74 247.99 L321 248 L321.26 248.01 L321.52 248.01 L321.79 248.02 L322.05 248.03 L322.31 248.04 L322.57 248.05 L322.84 248.06 L323.1 248.07 L323.36 248.07 L323.63 248.08 L323.89 248.09 L324.15 248.1 L324.41 248.11 L324.68 248.12 L324.94 248.12 L325.2 248.13 L325.46 248.14 L325.73 248.15 L325.99 248.15 L326.25 248.16 L326.52 248.17 L326.78 248.18 L327.04 248.18 L327.3 248.19 L327.57 248.2 L327.83 248.21 L328.09 248.21 L328.35 248.22 L328.62 248.23 L328.88 248.23 L329.14 248.24 L329.41 248.25 L329.67 248.25 L329.93 248.26 L330.19 248.27 L330.46 248.27 L330.72 248.28 L330.98 248.28 L331.24 248.29 L331.51 248.3 L331.77 248.3 L332.03 248.31 L332.3 248.31 L332.56 248.32 L332.82 248.33 L333.08 248.33 L333.35 248.34 L333.61 248.34 L333.87 248.35 L334.13 248.35 L334.4 248.36 L334.66 248.36 L334.92 248.37 L335.19 248.37 L335.45 248.38 L335.71 248.38 L335.97 248.39 L336.24 248.39 L336.5 248.4 L336.76 248.4 L337.02 248.41 L337.29 248.41 L337.55 248.42 L337.81 248.42 L338.08 248.43 L338.34 248.43 L338.6 248.44 L338.86 248.44 L339.13 248.44 L339.39 248.45 L339.65 248.45 L339.91 248.46 L340.18 248.46 L340.44 248.46 L340.7 248.47 L340.97 248.47 L341.23 248.48 L341.49 248.48 L341.75 248.48 L342.02 248.49 L342.28 248.49 L342.54 248.49 L342.8 248.5 L343.07 248.5 L343.33 248.5 L343.59 248.51 L343.86 248.51 L344.12 248.51 L344.38 248.52 L344.64 248.52 L344.91 248.52 L345.17 248.53 L345.43 248.53 L345.69 248.53 L345.96 248.53 L346.22 248.54 L346.48 248.54 L346.75 248.54 L347.01 248.54 L347.27 248.55 L347.53 248.55 L347.8 248.55 L348.06 248.55 L348.32 248.56 L348.58 248.56 L348.85 248.56 L349.11 248.56 L349.37 248.56 L349.64 248.57 L349.9 248.57 L350.16 248.57 L350.42 248.57 L350.69 248.57 L350.95 248.58 L351.21 248.58 L351.47 248.58 L351.74 248.58 L352 248.58 L352.26 248.58 L352.53 248.59 L352.79 248.59 L353.05 248.59 L353.31 248.59 L353.58 248.59 L353.84 248.59 L354.1 248.59 L354.36 248.59 L354.63 248.6 L354.89 248.6 L355.15 248.6 L355.42 248.6 L355.68 248.6 L355.94 248.6 L356.2 248.6 L356.47 248.6 L356.73 248.6 L356.99 248.6 L357.25 248.6 L357.52 248.6 L357.78 248.61 L358.04 248.61 L358.31 248.61 L358.57 248.61 L358.83 248.61 L359.09 248.61 L359.36 248.61 L359.62 248.61 L359.88 248.61 L360.14 248.61 L360.41 248.61 L360.67 248.61 L360.93 248.61 L361.2 248.61 L361.46 248.61 L361.72 248.61 L361.98 248.61 L362.25 248.61 L362.51 248.61 L362.77 248.61 L363.03 248.61 L363.3 248.61 L363.56 248.61 L363.82 248.6 L364.09 248.6 L364.35 248.6 L364.61 248.6 L364.87 248.6 L365.14 248.6 L365.4 248.6 L365.66 248.6 L365.92 248.6 L366.19 248.6 L366.45 248.6 L366.71 248.6 L366.98 248.59 L367.24 248.59 L367.5 248.59 L367.76 248.59 L368.03 248.59 L368.29 248.59 L368.55 248.59 L368.81 248.59 L369.08 248.58 L369.34 248.58 L369.6 248.58 L369.87 248.58 L370.13 248.58 L370.39 248.58 L370.65 248.58 L370.92 248.57 L371.18 248.57 L371.44 248.57 L371.7 248.57 L371.97 248.57 L372.23 248.56 L372.49 248.56 L372.76 248.56 L373.02 248.56 L373.28 248.56 L373.54 248.55 L373.81 248.55 L374.07 248.55 L374.33 248.55 L374.59 248.54 L374.86 248.54 L375.12 248.54 L375.38 248.54 L375.65 248.53 L375.91 248.53 L376.17 248.53 L376.43 248.53 L376.7 248.52 L376.96 248.52 L377.22 248.52 L377.48 248.51 L377.75 248.51 L378.01 248.51 L378.27 248.51 L378.54 248.5 L378.8 248.5 L379.06 248.5 L379.32 248.49 L379.59 248.49 L379.85 248.49 L380.11 248.48 L380.37 248.48 L380.64 248.48 L380.9 248.47 L381.16 248.47 L381.43 248.47 L381.69 248.46 L381.95 248.46 L382.21 248.45 L382.48 248.45 L382.74 248.45 L383 248.44 L383.26 248.44 L383.53 248.44 L383.79 248.43 L384.05 248.43 L384.32 248.42 L384.58 248.42 L384.84 248.41 L385.1 248.41 L385.37 248.41 L385.63 248.4 L385.89 248.4 L386.15 248.39 L386.42 248.39 L386.68 248.38 L386.94 248.38 L387.21 248.37 L387.47 248.37 L387.73 248.37 L387.99 248.36 L388.26 248.36 L388.52 248.35 L388.78 248.35 L389.04 248.34 L389.31 248.34 L389.57 248.33 L389.83 248.33 L390.1 248.32 L390.36 248.32 L390.62 248.31 L390.88 248.3 L391.15 248.3 L391.41 248.29 L391.67 248.29 L391.93 248.28 L392.2 248.28 L392.46 248.27 L392.72 248.27 L392.99 248.26 L393.25 248.25 L393.51 248.25 L393.77 248.24 L394.04 248.24 L394.3 248.23 L394.56 248.22 L394.82 248.22 L395.09 248.21 L395.35 248.21 L395.61 248.2 L395.88 248.19 L396.14 248.19 L396.4 248.18 L396.66 248.17 L396.93 248.17 L397.19 248.16 L397.45 248.15 L397.71 248.15 L397.98 248.14 L398.24 248.13 L398.5 248.13 L398.77 248.12 L399.03 248.11 L399.29 248.11 L399.55 248.1 L399.82 248.09 L400.08 248.08 L400.34 248.08 L400.6 248.07 L400.87 248.06 L401.13 248.06 L401.39 248.05 L401.66 248.04 L401.92 248.03 L402.18 248.02 L402.44 248.02 L402.71 248.01 L402.97 248 L403.23 247.99 L403.49 247.99 L403.76 247.98 L404.02 247.97 L404.28 247.96 L404.55 247.95 L404.81 247.94 L405.07 247.94 L405.33 247.93 L405.6 247.92 L405.86 247.91 L406.12 247.9 L406.38 247.89 L406.65 247.88 L406.91 247.88 L407.17 247.87 L407.44 247.86 L407.7 247.85 L407.96 247.84 L408.22 247.83 L408.49 247.82 L408.75 247.81 L409.01 247.8 L409.27 247.79 L409.54 247.78 L409.8 247.77 L410.06 247.77 L410.33 247.76 L410.59 247.75 L410.85 247.74 L411.11 247.73 L411.38 247.72 L411.64 247.71 L411.9 247.7 L412.16 247.69 L412.43 247.68 L412.69 247.67 L412.95 247.65 L413.22 247.64 L413.48 247.63 L413.74 247.62 L414 247.61 L414.27 247.6 L414.53 247.59 L414.79 247.58 L415.05 247.57 L415.32 247.56 L415.58 247.55 L415.84 247.54 L416.11 247.52 L416.37 247.51 L416.63 247.5 L416.89 247.49 L417.16 247.48 L417.42 247.47 L417.68 247.45 L417.94 247.44 L418.21 247.43 L418.47 247.42 L418.73 247.41 L419 247.39 L419.26 247.38 L419.52 247.37 L419.78 247.36 L420.05 247.35 L420.31 247.33 L420.57 247.32 L420.83 247.31 L421.1 247.29 L421.36 247.28 L421.62 247.27 L421.89 247.26 L422.15 247.24 L422.41 247.23 L422.67 247.22 L422.94 247.2 L423.2 247.19 L423.46 247.17 L423.72 247.16 L423.99 247.15 L424.25 247.13 L424.51 247.12 L424.78 247.1 L425.04 247.09 L425.3 247.08 L425.56 247.06 L425.83 247.05 L426.09 247.03 L426.35 247.02 L426.61 247 L426.88 246.99 L427.14 246.97 L427.4 246.96 L427.67 246.94 L427.93 246.93 L428.19 246.91 L428.45 246.9 L428.72 246.88 L428.98 246.86 L429.24 246.85 L429.5 246.83 L429.77 246.82 L430.03 246.8 L430.29 246.78 L430.56 246.77 L430.82 246.75 L431.08 246.73 L431.34 246.72 L431.61 246.7 L431.87 246.68 L432.13 246.67 L432.39 246.65 L432.66 246.63 L432.92 246.61 L433.18 246.6 L433.45 246.58 L433.71 246.56 L433.97 246.54 L434.23 246.52 L434.5 246.51 L434.76 246.49 L435.02 246.47 L435.28 246.45 L435.55 246.43 L435.81 246.41 L436.07 246.39 L436.34 246.37 L436.6 246.36 L436.86 246.34 L437.12 246.32 L437.39 246.3 L437.65 246.28 L437.91 246.26 L438.17 246.24 L438.44 246.22 L438.7 246.2 L438.96 246.17 L439.23 246.15 L439.49 246.13 L439.75 246.11 L440.01 246.09 L440.28 246.07 L440.54 246.05 L440.8 246.03 L441.06 246 L441.33 245.98 L441.59 245.96 L441.85 245.94 L442.12 245.92 L442.38 245.89 L442.64 245.87 L442.9 245.85 L443.17 245.82 L443.43 245.8 L443.69 245.78 L443.95 245.75 L444.22 245.73 L444.48 245.71 L444.74 245.68 L445.01 245.66 L445.27 245.63 L445.53 245.61 L445.79 245.58 L446.06 245.56 L446.32 245.53 L446.58 245.51 L446.84 245.48 L447.11 245.45 L447.37 245.43 L447.63 245.4 L447.9 245.38 L448.16 245.35 L448.42 245.32 L448.68 245.29 L448.95 245.27 L449.21 245.24 L449.47 245.21 L449.73 245.18 L450 245.15 L450.26 245.13 L450.52 245.1 L450.79 245.07 L451.05 245.04 L451.31 245.01 L451.57 244.98 L451.84 244.95 L452.1 244.92 L452.36 244.89 L452.62 244.86 L452.89 244.83 L453.15 244.8 L453.41 244.76 L453.68 244.73 L453.94 244.7 L454.2 244.67 L454.46 244.64 L454.73 244.6 L454.99 244.57 L455.25 244.54 L455.51 244.5 L455.78 244.47 L456.04 244.43 L456.3 244.4 L456.57 244.36 L456.83 244.33 L457.09 244.29 L457.35 244.26 L457.62 244.22 L457.88 244.18 L458.14 244.15 L458.4 244.11 L458.67 244.07 L458.93 244.03 L459.19 243.99 L459.46 243.96 L459.72 243.92 L459.98 243.88 L460.24 243.84 L460.51 243.8 L460.77 243.76 L461.03 243.72 L461.29 243.67 L461.56 243.63 L461.82 243.59 L462.08 243.55 L462.35 243.5 L462.61 243.46 L462.87 243.42 L463.13 243.37 L463.4 243.33 L463.66 243.28 L463.92 243.23 L464.18 243.19 L464.45 243.14 L464.71 243.09 L464.97 243.05 L465.24 243 L465.5 242.95 L465.76 242.9 L466.02 242.85 L466.29 242.8 L466.55 242.75 L466.81 242.69 L467.07 242.64 L467.34 242.59 L467.6 242.53" stroke="#EC6526"/>
</g>
<path d="M47.5 192.8H467.6V331H47.5Z M100.01 331v-4.2 M100.01 192.8v4.2 M152.53 331v-4.2 M152.53 192.8v4.2 M205.04 331v-4.2 M205.04 192.8v4.2 M257.55 331v-4.2 M257.55 192.8v4.2 M310.06 331v-4.2 M310.06 192.8v4.2 M362.58 331v-4.2 M362.58 192.8v4.2 M415.09 331v-4.2 M415.09 192.8v4.2 M47.5 317.18h4.2 M467.6 317.18h-4.2 M47.5 282.63h4.2 M467.6 282.63h-4.2 M47.5 248.08h4.2 M467.6 248.08h-4.2 M47.5 213.53h4.2 M467.6 213.53h-4.2" fill="none" stroke="#303030" stroke-width="1.1"/>
<text x="98.51" y="347" font-size="10.8" text-anchor="middle" fill="#303030" stroke="#303030" stroke-width="0.08">2500</text>
<text x="151.03" y="347" font-size="10.8" text-anchor="middle" fill="#303030" stroke="#303030" stroke-width="0.08">2600</text>
<text x="203.54" y="347" font-size="10.8" text-anchor="middle" fill="#303030" stroke="#303030" stroke-width="0.08">2700</text>
<text x="256.05" y="347" font-size="10.8" text-anchor="middle" fill="#303030" stroke="#303030" stroke-width="0.08">2800</text>
<text x="308.56" y="347" font-size="10.8" text-anchor="middle" fill="#303030" stroke="#303030" stroke-width="0.08">2900</text>
<text x="361.08" y="347" font-size="10.8" text-anchor="middle" fill="#303030" stroke="#303030" stroke-width="0.08">3000</text>
<text x="413.59" y="347" font-size="10.8" text-anchor="middle" fill="#303030" stroke="#303030" stroke-width="0.08">3100</text>
<text x="466.1" y="347" font-size="10.8" text-anchor="middle" fill="#303030" stroke="#303030" stroke-width="0.08">3200</text>
<text x="41.6" y="322.01" font-size="10.8" text-anchor="end" fill="#303030" stroke="#303030" stroke-width="0.08">−100</text>
<text x="41.6" y="287.46" font-size="10.8" text-anchor="end" fill="#303030" stroke="#303030" stroke-width="0.08">−50</text>
<text x="41.6" y="252.91" font-size="10.8" text-anchor="end" fill="#303030" stroke="#303030" stroke-width="0.08">0</text>
<text x="41.6" y="218.36" font-size="10.8" text-anchor="end" fill="#303030" stroke="#303030" stroke-width="0.08">50</text>
<text x="253.2" y="363" font-size="11.3" text-anchor="middle" fill="#303030" stroke="#303030" stroke-width="0.08" textLength="77.8" lengthAdjust="spacingAndGlyphs">Frequency (Hz)</text>
<text transform="translate(13.9 267.5) rotate(-90)" x="0" y="0" font-size="11.8" text-anchor="middle" fill="#303030" stroke="#303030" stroke-width="0.08" textLength="92.4" lengthAdjust="spacingAndGlyphs">Transmission (dB)</text>
<path d="M303.2 286.9H342" stroke="#0072BD" stroke-width="1" opacity="0.75"/>
<path d="M303.2 300.9H342" stroke="#EC6526" stroke-width="1" opacity="0.75"/>
<text x="345.9" y="290.8" font-size="9.2" text-anchor="start" fill="#303030" stroke="#303030" stroke-width="0.08" textLength="83.2" lengthAdjust="spacingAndGlyphs">Metamaterial beam</text>
<text x="345.9" y="304.7" font-size="9.2" text-anchor="start" fill="#303030" stroke="#303030" stroke-width="0.08" textLength="83.8" lengthAdjust="spacingAndGlyphs">Conventional beam</text>
<text x="478" y="327.3" font-size="11" text-anchor="start" fill="#303030" stroke="#303030" stroke-width="0.08" textLength="13.2" lengthAdjust="spacingAndGlyphs">(b)</text>
<text x="107.4" y="292.3" font-size="9.2" text-anchor="start" fill="#3a3030" stroke="#3a3030" stroke-width="0.08" textLength="66.2" lengthAdjust="spacingAndGlyphs">Region of wave</text>
<text x="107.4" y="304.6" font-size="9.2" text-anchor="start" fill="#3a3030" stroke="#3a3030" stroke-width="0.08" textLength="50" lengthAdjust="spacingAndGlyphs">attenuation</text>
<path d="M178.4 287.7L211.5 280.7" stroke="#F03C46" stroke-width="1.1" fill="none"/>
<path d="M216.8 279.6L210.4 278.0L211.6 283.0Z" fill="#F03C46"/>
<path d="M47.5 373.4H467.8V511.6H47.5Z M100.04 511.6v-4.2 M100.04 373.4v4.2 M152.57 511.6v-4.2 M152.57 373.4v4.2 M205.11 511.6v-4.2 M205.11 373.4v4.2 M257.65 511.6v-4.2 M257.65 373.4v4.2 M310.19 511.6v-4.2 M310.19 373.4v4.2 M362.73 511.6v-4.2 M362.73 373.4v4.2 M415.26 511.6v-4.2 M415.26 373.4v4.2 M47.5 505.57h4.2 M467.8 505.57h-4.2 M47.5 475.39h4.2 M467.8 475.39h-4.2 M47.5 445.22h4.2 M467.8 445.22h-4.2 M47.5 415.04h4.2 M467.8 415.04h-4.2 M47.5 384.87h4.2 M467.8 384.87h-4.2" fill="none" stroke="#303030" stroke-width="1.1"/>
<text x="46.6" y="527.6" font-size="10.5" text-anchor="middle" fill="#303030" stroke="#303030" stroke-width="0.08">6</text>
<text x="99.14" y="527.6" font-size="10.5" text-anchor="middle" fill="#303030" stroke="#303030" stroke-width="0.08">6.5</text>
<text x="151.67" y="527.6" font-size="10.5" text-anchor="middle" fill="#303030" stroke="#303030" stroke-width="0.08">7</text>
<text x="204.21" y="527.6" font-size="10.5" text-anchor="middle" fill="#303030" stroke="#303030" stroke-width="0.08">7.5</text>
<text x="256.75" y="527.6" font-size="10.5" text-anchor="middle" fill="#303030" stroke="#303030" stroke-width="0.08">8</text>
<text x="309.29" y="527.6" font-size="10.5" text-anchor="middle" fill="#303030" stroke="#303030" stroke-width="0.08">8.5</text>
<text x="361.83" y="527.6" font-size="10.5" text-anchor="middle" fill="#303030" stroke="#303030" stroke-width="0.08">9</text>
<text x="414.36" y="527.6" font-size="10.5" text-anchor="middle" fill="#303030" stroke="#303030" stroke-width="0.08">9.5</text>
<text x="466.9" y="527.6" font-size="10.5" text-anchor="middle" fill="#303030" stroke="#303030" stroke-width="0.08">10</text>
<text x="41.3" y="510.39" font-size="10.5" text-anchor="end" fill="#303030" stroke="#303030" stroke-width="0.08">11.8</text>
<text x="41.3" y="480.22" font-size="10.5" text-anchor="end" fill="#303030" stroke="#303030" stroke-width="0.08">12</text>
<text x="41.3" y="450.04" font-size="10.5" text-anchor="end" fill="#303030" stroke="#303030" stroke-width="0.08">12.2</text>
<text x="41.3" y="419.87" font-size="10.5" text-anchor="end" fill="#303030" stroke="#303030" stroke-width="0.08">12.4</text>
<text x="41.3" y="389.69" font-size="10.5" text-anchor="end" fill="#303030" stroke="#303030" stroke-width="0.08">12.6</text>
<text x="252.4" y="543.8" font-size="11.6" text-anchor="middle" fill="#303030" stroke="#303030" stroke-width="0.08" textLength="188" lengthAdjust="spacingAndGlyphs">Length of the shunt resonator (mm)</text>
<text transform="translate(14.3 446.8) rotate(-90)" x="0" y="0" font-size="11.8" text-anchor="middle" fill="#303030" stroke="#303030" stroke-width="0.08" textLength="168.6" lengthAdjust="spacingAndGlyphs">Witdth of wave attenuation (Hz)</text>
<text x="477.9" y="512.2" font-size="11.4" text-anchor="start" fill="#303030" stroke="#303030" stroke-width="0.08" textLength="12.3" lengthAdjust="spacingAndGlyphs" font-weight="bold">(c)</text>
<path d="M73.77 511.6 L205.11 439.78 L336.46 393.16 L467.8 373.4" fill="none" stroke="#0072BD" stroke-width="1.5"/>
<path d="M69.77 511.6h8 M73.77 507.6v8 M70.89 508.72l5.76 5.76 M70.89 514.48l5.76 -5.76" stroke="#0072BD" stroke-width="1.4" fill="none"/>
<path d="M201.11 439.78h8 M205.11 435.78v8 M202.23 436.9l5.76 5.76 M202.23 442.66l5.76 -5.76" stroke="#0072BD" stroke-width="1.4" fill="none"/>
<path d="M332.46 393.16h8 M336.46 389.16v8 M333.58 390.28l5.76 5.76 M333.58 396.04l5.76 -5.76" stroke="#0072BD" stroke-width="1.4" fill="none"/>
<path d="M463.8 373.4h8 M467.8 369.4v8 M464.92 370.52l5.76 5.76 M464.92 376.28l5.76 -5.76" stroke="#0072BD" stroke-width="1.4" fill="none"/>
</svg>
</body></html>
